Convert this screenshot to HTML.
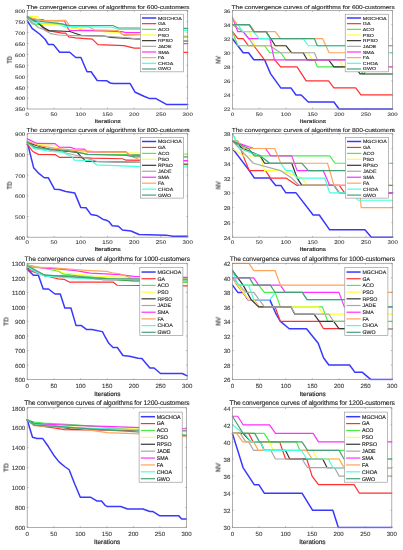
<!DOCTYPE html>
<html><head><meta charset="utf-8"><style>
html,body{margin:0;padding:0;background:#fff;}
svg{display:block;font-family:"Liberation Sans", sans-serif;filter:blur(0.5px);text-rendering:geometricPrecision;}
text{filter:url(#tb);}
</style></head><body>
<svg width="403" height="550" viewBox="0 0 403 550">
<defs><filter id="tb" x="-5%" y="-50%" width="110%" height="200%"><feGaussianBlur stdDeviation="0.3"/></filter></defs>
<rect width="403" height="550" fill="#fff"/>
<text transform="translate(108.10,8.54) scale(1,0.8221)" font-size="6.7" text-anchor="middle" fill="#111" stroke="#111" stroke-width="0.08" textLength="163.2" lengthAdjust="spacing">The convergence curves of algorithms for 600-customers</text>
<clipPath id="c00"><rect x="26.2" y="9.6" width="162.5" height="100.4"/></clipPath>
<g clip-path="url(#c00)" fill="none" stroke-linejoin="round" stroke-linecap="round">
<polyline points="27.40,21.00 32.10,28.30 40.20,34.50 45.30,39.50 48.40,44.60 53.50,44.60 59.60,52.20 69.70,52.20 75.80,57.50 80.90,57.50 87.00,71.70 91.10,71.70 97.20,80.50 106.50,80.70 110.20,83.00 113.30,83.40 130.00,83.40 135.20,92.30 144.50,96.50 149.75,98.60 156.00,98.60 166.40,104.40 187.80,104.40" stroke="#3838ff" stroke-width="1.5"/>
<polyline points="27.40,18.50 38.40,22.50 42.10,25.60 45.90,30.60 50.80,31.20 62.00,33.10 65.70,33.10 68.80,36.80 75.60,37.80 92.30,39.10 97.90,44.70 124.00,45.60 134.20,48.10 150.00,48.20 160.00,52.40 187.80,52.40" stroke="#ff3030" stroke-width="1.2"/>
<polyline points="27.40,17.50 32.20,23.80 38.40,24.40 62.00,24.40 67.00,25.60 77.40,28.00 81.20,29.80 120.20,31.70 124.00,35.40 139.80,35.40 160.00,36.40 187.80,36.40" stroke="#48ee48" stroke-width="1.2"/>
<polyline points="27.90,16.30 31.00,16.30 37.80,16.70 39.60,18.80 42.10,24.40 63.20,25.00 65.70,28.10 76.00,28.10 103.50,31.70 120.20,32.60 124.00,34.50 150.00,36.00 160.00,41.00 187.80,41.00" stroke="#ffff38" stroke-width="1.2"/>
<polyline points="27.40,17.00 38.40,23.20 42.10,26.90 49.00,30.60 70.00,31.50 75.60,33.50 81.20,35.40 103.50,36.00 111.00,37.30 124.00,38.20 139.80,39.10 150.00,40.50 187.80,41.00" stroke="#363636" stroke-width="1.2"/>
<polyline points="27.40,18.00 38.20,27.50 43.40,29.40 50.80,33.70 58.30,35.00 76.00,35.60 103.50,36.20 124.00,37.50 150.00,40.20 187.80,40.60" stroke="#a8a8a8" stroke-width="1.2"/>
<polyline points="27.40,17.20 33.40,19.40 43.40,19.70 44.60,20.70 64.50,20.90 68.20,28.70 69.40,30.40 103.50,30.80 122.10,31.70 125.80,32.60 139.80,32.60 155.00,40.00 160.00,43.70 187.80,43.70" stroke="#ff30ff" stroke-width="1.2"/>
<polyline points="27.40,16.80 42.10,20.70 65.70,20.40 68.80,24.40 70.00,26.10 88.60,26.70 94.20,29.80 118.00,30.50 122.10,34.50 139.80,34.50 160.00,37.20 187.80,37.20" stroke="#ffa45c" stroke-width="1.2"/>
<polyline points="27.40,16.00 33.40,21.90 40.90,23.20 58.30,23.20 63.20,26.30 76.00,26.60 112.00,27.20 118.40,29.30 139.80,29.30 160.00,30.30 187.80,30.30" stroke="#48ffdc" stroke-width="1.2"/>
<polyline points="27.40,16.50 33.40,20.50 62.00,23.80 68.20,25.40 70.00,25.50 112.80,25.50 118.40,28.00 139.80,28.00 187.80,28.40" stroke="#48a078" stroke-width="1.2"/>
</g>
<rect x="27.2" y="10.6" width="160.5" height="98.4" fill="none" stroke="#8c8c8c" stroke-width="0.7"/>
<line x1="27.20" y1="109.0" x2="27.20" y2="107.7" stroke="#8c8c8c" stroke-width="0.6"/>
<line x1="27.20" y1="10.6" x2="27.20" y2="11.9" stroke="#8c8c8c" stroke-width="0.6"/>
<text transform="translate(27.20,115.82) scale(1,0.8221)" font-size="6.1" text-anchor="middle" fill="#383838" stroke="#383838" stroke-width="0.1">0</text>
<line x1="53.95" y1="109.0" x2="53.95" y2="107.7" stroke="#8c8c8c" stroke-width="0.6"/>
<line x1="53.95" y1="10.6" x2="53.95" y2="11.9" stroke="#8c8c8c" stroke-width="0.6"/>
<text transform="translate(53.95,115.82) scale(1,0.8221)" font-size="6.1" text-anchor="middle" fill="#383838" stroke="#383838" stroke-width="0.1">50</text>
<line x1="80.70" y1="109.0" x2="80.70" y2="107.7" stroke="#8c8c8c" stroke-width="0.6"/>
<line x1="80.70" y1="10.6" x2="80.70" y2="11.9" stroke="#8c8c8c" stroke-width="0.6"/>
<text transform="translate(80.70,115.82) scale(1,0.8221)" font-size="6.1" text-anchor="middle" fill="#383838" stroke="#383838" stroke-width="0.1">100</text>
<line x1="107.45" y1="109.0" x2="107.45" y2="107.7" stroke="#8c8c8c" stroke-width="0.6"/>
<line x1="107.45" y1="10.6" x2="107.45" y2="11.9" stroke="#8c8c8c" stroke-width="0.6"/>
<text transform="translate(107.45,115.82) scale(1,0.8221)" font-size="6.1" text-anchor="middle" fill="#383838" stroke="#383838" stroke-width="0.1">150</text>
<line x1="134.20" y1="109.0" x2="134.20" y2="107.7" stroke="#8c8c8c" stroke-width="0.6"/>
<line x1="134.20" y1="10.6" x2="134.20" y2="11.9" stroke="#8c8c8c" stroke-width="0.6"/>
<text transform="translate(134.20,115.82) scale(1,0.8221)" font-size="6.1" text-anchor="middle" fill="#383838" stroke="#383838" stroke-width="0.1">200</text>
<line x1="160.95" y1="109.0" x2="160.95" y2="107.7" stroke="#8c8c8c" stroke-width="0.6"/>
<line x1="160.95" y1="10.6" x2="160.95" y2="11.9" stroke="#8c8c8c" stroke-width="0.6"/>
<text transform="translate(160.95,115.82) scale(1,0.8221)" font-size="6.1" text-anchor="middle" fill="#383838" stroke="#383838" stroke-width="0.1">250</text>
<line x1="187.70" y1="109.0" x2="187.70" y2="107.7" stroke="#8c8c8c" stroke-width="0.6"/>
<line x1="187.70" y1="10.6" x2="187.70" y2="11.9" stroke="#8c8c8c" stroke-width="0.6"/>
<text transform="translate(187.70,115.82) scale(1,0.8221)" font-size="6.1" text-anchor="middle" fill="#383838" stroke="#383838" stroke-width="0.1">300</text>
<line x1="27.2" y1="109.00" x2="28.5" y2="109.00" stroke="#8c8c8c" stroke-width="0.6"/>
<line x1="187.7" y1="109.00" x2="186.39999999999998" y2="109.00" stroke="#8c8c8c" stroke-width="0.6"/>
<text transform="translate(25.20,111.43) scale(1,0.8221)" font-size="6.1" text-anchor="end" fill="#383838" stroke="#383838" stroke-width="0.1">350</text>
<line x1="27.2" y1="98.07" x2="28.5" y2="98.07" stroke="#8c8c8c" stroke-width="0.6"/>
<line x1="187.7" y1="98.07" x2="186.39999999999998" y2="98.07" stroke="#8c8c8c" stroke-width="0.6"/>
<text transform="translate(25.20,100.49) scale(1,0.8221)" font-size="6.1" text-anchor="end" fill="#383838" stroke="#383838" stroke-width="0.1">400</text>
<line x1="27.2" y1="87.13" x2="28.5" y2="87.13" stroke="#8c8c8c" stroke-width="0.6"/>
<line x1="187.7" y1="87.13" x2="186.39999999999998" y2="87.13" stroke="#8c8c8c" stroke-width="0.6"/>
<text transform="translate(25.20,89.56) scale(1,0.8221)" font-size="6.1" text-anchor="end" fill="#383838" stroke="#383838" stroke-width="0.1">450</text>
<line x1="27.2" y1="76.20" x2="28.5" y2="76.20" stroke="#8c8c8c" stroke-width="0.6"/>
<line x1="187.7" y1="76.20" x2="186.39999999999998" y2="76.20" stroke="#8c8c8c" stroke-width="0.6"/>
<text transform="translate(25.20,78.63) scale(1,0.8221)" font-size="6.1" text-anchor="end" fill="#383838" stroke="#383838" stroke-width="0.1">500</text>
<line x1="27.2" y1="65.27" x2="28.5" y2="65.27" stroke="#8c8c8c" stroke-width="0.6"/>
<line x1="187.7" y1="65.27" x2="186.39999999999998" y2="65.27" stroke="#8c8c8c" stroke-width="0.6"/>
<text transform="translate(25.20,67.69) scale(1,0.8221)" font-size="6.1" text-anchor="end" fill="#383838" stroke="#383838" stroke-width="0.1">550</text>
<line x1="27.2" y1="54.33" x2="28.5" y2="54.33" stroke="#8c8c8c" stroke-width="0.6"/>
<line x1="187.7" y1="54.33" x2="186.39999999999998" y2="54.33" stroke="#8c8c8c" stroke-width="0.6"/>
<text transform="translate(25.20,56.76) scale(1,0.8221)" font-size="6.1" text-anchor="end" fill="#383838" stroke="#383838" stroke-width="0.1">600</text>
<line x1="27.2" y1="43.40" x2="28.5" y2="43.40" stroke="#8c8c8c" stroke-width="0.6"/>
<line x1="187.7" y1="43.40" x2="186.39999999999998" y2="43.40" stroke="#8c8c8c" stroke-width="0.6"/>
<text transform="translate(25.20,45.83) scale(1,0.8221)" font-size="6.1" text-anchor="end" fill="#383838" stroke="#383838" stroke-width="0.1">650</text>
<line x1="27.2" y1="32.47" x2="28.5" y2="32.47" stroke="#8c8c8c" stroke-width="0.6"/>
<line x1="187.7" y1="32.47" x2="186.39999999999998" y2="32.47" stroke="#8c8c8c" stroke-width="0.6"/>
<text transform="translate(25.20,34.89) scale(1,0.8221)" font-size="6.1" text-anchor="end" fill="#383838" stroke="#383838" stroke-width="0.1">700</text>
<line x1="27.2" y1="21.53" x2="28.5" y2="21.53" stroke="#8c8c8c" stroke-width="0.6"/>
<line x1="187.7" y1="21.53" x2="186.39999999999998" y2="21.53" stroke="#8c8c8c" stroke-width="0.6"/>
<text transform="translate(25.20,23.96) scale(1,0.8221)" font-size="6.1" text-anchor="end" fill="#383838" stroke="#383838" stroke-width="0.1">750</text>
<line x1="27.2" y1="10.60" x2="28.5" y2="10.60" stroke="#8c8c8c" stroke-width="0.6"/>
<line x1="187.7" y1="10.60" x2="186.39999999999998" y2="10.60" stroke="#8c8c8c" stroke-width="0.6"/>
<text transform="translate(25.20,13.03) scale(1,0.8221)" font-size="6.1" text-anchor="end" fill="#383838" stroke="#383838" stroke-width="0.1">800</text>
<text transform="translate(107.65,122.56) scale(1,0.8221)" font-size="6.4" text-anchor="middle" fill="#262626" stroke="#262626" stroke-width="0.18">Iterations</text>
<text transform="translate(11.83,59.80) scale(1,0.8221) rotate(-90)" font-size="6.4" text-anchor="middle" fill="#262626" stroke="#262626" stroke-width="0.18">TD</text>
<rect x="140.30" y="14.22" width="43.10" height="57.63" fill="#fff" stroke="#8c8c8c" stroke-width="0.6"/>
<line x1="142.00" y1="18.00" x2="156.20" y2="18.00" stroke="#3838ff" stroke-width="1.5"/>
<text transform="translate(157.90,19.52) scale(1,0.8221)" font-size="5.3" text-anchor="start" fill="#262626" stroke="#262626" stroke-width="0.14">MGCHOA</text>
<line x1="142.00" y1="23.66" x2="156.20" y2="23.66" stroke="#ff3030" stroke-width="1.2"/>
<text transform="translate(157.90,25.18) scale(1,0.8221)" font-size="5.3" text-anchor="start" fill="#262626" stroke="#262626" stroke-width="0.14">GA</text>
<line x1="142.00" y1="29.33" x2="156.20" y2="29.33" stroke="#48ee48" stroke-width="1.2"/>
<text transform="translate(157.90,30.85) scale(1,0.8221)" font-size="5.3" text-anchor="start" fill="#262626" stroke="#262626" stroke-width="0.14">ACO</text>
<line x1="142.00" y1="34.99" x2="156.20" y2="34.99" stroke="#ffff38" stroke-width="1.2"/>
<text transform="translate(157.90,36.51) scale(1,0.8221)" font-size="5.3" text-anchor="start" fill="#262626" stroke="#262626" stroke-width="0.14">PSO</text>
<line x1="142.00" y1="40.65" x2="156.20" y2="40.65" stroke="#363636" stroke-width="1.2"/>
<text transform="translate(157.90,42.18) scale(1,0.8221)" font-size="5.3" text-anchor="start" fill="#262626" stroke="#262626" stroke-width="0.14">RPSO</text>
<line x1="142.00" y1="46.32" x2="156.20" y2="46.32" stroke="#a8a8a8" stroke-width="1.2"/>
<text transform="translate(157.90,47.84) scale(1,0.8221)" font-size="5.3" text-anchor="start" fill="#262626" stroke="#262626" stroke-width="0.14">JADE</text>
<line x1="142.00" y1="51.98" x2="156.20" y2="51.98" stroke="#ff30ff" stroke-width="1.2"/>
<text transform="translate(157.90,53.50) scale(1,0.8221)" font-size="5.3" text-anchor="start" fill="#262626" stroke="#262626" stroke-width="0.14">SMA</text>
<line x1="142.00" y1="57.65" x2="156.20" y2="57.65" stroke="#ffa45c" stroke-width="1.2"/>
<text transform="translate(157.90,59.17) scale(1,0.8221)" font-size="5.3" text-anchor="start" fill="#262626" stroke="#262626" stroke-width="0.14">FA</text>
<line x1="142.00" y1="63.31" x2="156.20" y2="63.31" stroke="#48ffdc" stroke-width="1.2"/>
<text transform="translate(157.90,64.83) scale(1,0.8221)" font-size="5.3" text-anchor="start" fill="#262626" stroke="#262626" stroke-width="0.14">CHOA</text>
<line x1="142.00" y1="68.97" x2="156.20" y2="68.97" stroke="#48a078" stroke-width="1.2"/>
<text transform="translate(157.90,70.49) scale(1,0.8221)" font-size="5.3" text-anchor="start" fill="#262626" stroke="#262626" stroke-width="0.14">GWO</text>
<text transform="translate(313.20,8.54) scale(1,0.8221)" font-size="6.7" text-anchor="middle" fill="#111" stroke="#111" stroke-width="0.08" textLength="163.2" lengthAdjust="spacing">The convergence curves of algorithms for 600-customers</text>
<clipPath id="c01"><rect x="231.5" y="9.6" width="162.10000000000002" height="100.4"/></clipPath>
<g clip-path="url(#c01)" fill="none" stroke-linejoin="round" stroke-linecap="round">
<polyline points="232.50,38.71 237.84,45.74 243.17,52.77 248.51,52.77 253.85,59.80 264.52,59.80 270.66,73.86 280.74,87.91 290.94,87.91 296.01,94.94 301.18,94.94 308.28,101.97 333.90,101.97 339.02,109.00 392.60,109.00" stroke="#3838ff" stroke-width="1.5"/>
<polyline points="232.50,31.69 237.84,38.71 243.17,38.71 248.51,45.74 253.85,45.74 264.52,59.80 274.66,59.80 280.74,66.83 297.07,66.83 306.15,80.89 328.56,80.89 333.90,87.91 355.78,87.91 360.90,94.94 392.60,94.94" stroke="#ff3030" stroke-width="1.2"/>
<polyline points="232.50,31.69 237.84,45.74 264.52,45.74 269.86,52.77 280.74,52.77 285.87,59.80 314.42,59.80 317.35,66.83 357.91,66.83 363.25,73.86 392.60,73.86" stroke="#48ee48" stroke-width="1.2"/>
<polyline points="232.50,24.66 243.17,31.69 249.58,31.69 254.91,45.74 285.87,45.74 291.20,52.77 308.28,52.77 312.55,59.80 339.23,59.80 343.50,66.83 392.60,66.83" stroke="#ffff38" stroke-width="1.2"/>
<polyline points="232.50,24.66 249.31,24.66 253.85,31.69 266.12,31.69 270.66,38.71 270.92,38.71 275.19,45.74 285.87,45.74 291.74,52.77 303.16,52.77 307.21,59.80 328.56,59.80 333.90,66.83 355.24,66.83 360.05,73.86 392.60,73.86" stroke="#363636" stroke-width="1.2"/>
<polyline points="232.50,24.66 243.17,31.69 249.04,38.71 253.85,45.74 269.86,45.74 280.53,52.77 310.42,52.77 314.42,52.77 317.35,59.80 349.91,59.80 355.24,66.83 360.58,66.83 365.92,73.86 392.60,73.86" stroke="#a8a8a8" stroke-width="1.2"/>
<polyline points="232.50,17.63 237.84,31.69 243.17,31.69 248.51,38.71 269.86,38.71 274.39,59.80 363.25,59.80 368.59,66.83 392.60,66.83" stroke="#ff30ff" stroke-width="1.2"/>
<polyline points="232.50,17.63 237.30,24.66 249.31,24.66 254.38,31.69 275.19,31.69 280.53,38.71 322.69,38.71 329.09,52.77 392.60,52.77" stroke="#ffa45c" stroke-width="1.2"/>
<polyline points="232.50,24.66 237.84,24.66 242.64,31.69 253.31,31.69 259.18,38.71 303.16,38.71 308.28,45.74 365.92,45.74 371.25,52.77 392.60,52.77" stroke="#48ffdc" stroke-width="1.2"/>
<polyline points="232.50,24.66 249.31,24.66 253.85,31.69 266.12,31.69 270.66,38.71 314.42,38.71 317.35,45.74 392.60,45.74" stroke="#48a078" stroke-width="1.2"/>
</g>
<rect x="232.5" y="10.6" width="160.10000000000002" height="98.4" fill="none" stroke="#8c8c8c" stroke-width="0.7"/>
<line x1="232.50" y1="109.0" x2="232.50" y2="107.7" stroke="#8c8c8c" stroke-width="0.6"/>
<line x1="232.50" y1="10.6" x2="232.50" y2="11.9" stroke="#8c8c8c" stroke-width="0.6"/>
<text transform="translate(232.50,115.82) scale(1,0.8221)" font-size="6.1" text-anchor="middle" fill="#383838" stroke="#383838" stroke-width="0.1">0</text>
<line x1="259.18" y1="109.0" x2="259.18" y2="107.7" stroke="#8c8c8c" stroke-width="0.6"/>
<line x1="259.18" y1="10.6" x2="259.18" y2="11.9" stroke="#8c8c8c" stroke-width="0.6"/>
<text transform="translate(259.18,115.82) scale(1,0.8221)" font-size="6.1" text-anchor="middle" fill="#383838" stroke="#383838" stroke-width="0.1">50</text>
<line x1="285.87" y1="109.0" x2="285.87" y2="107.7" stroke="#8c8c8c" stroke-width="0.6"/>
<line x1="285.87" y1="10.6" x2="285.87" y2="11.9" stroke="#8c8c8c" stroke-width="0.6"/>
<text transform="translate(285.87,115.82) scale(1,0.8221)" font-size="6.1" text-anchor="middle" fill="#383838" stroke="#383838" stroke-width="0.1">100</text>
<line x1="312.55" y1="109.0" x2="312.55" y2="107.7" stroke="#8c8c8c" stroke-width="0.6"/>
<line x1="312.55" y1="10.6" x2="312.55" y2="11.9" stroke="#8c8c8c" stroke-width="0.6"/>
<text transform="translate(312.55,115.82) scale(1,0.8221)" font-size="6.1" text-anchor="middle" fill="#383838" stroke="#383838" stroke-width="0.1">150</text>
<line x1="339.23" y1="109.0" x2="339.23" y2="107.7" stroke="#8c8c8c" stroke-width="0.6"/>
<line x1="339.23" y1="10.6" x2="339.23" y2="11.9" stroke="#8c8c8c" stroke-width="0.6"/>
<text transform="translate(339.23,115.82) scale(1,0.8221)" font-size="6.1" text-anchor="middle" fill="#383838" stroke="#383838" stroke-width="0.1">200</text>
<line x1="365.92" y1="109.0" x2="365.92" y2="107.7" stroke="#8c8c8c" stroke-width="0.6"/>
<line x1="365.92" y1="10.6" x2="365.92" y2="11.9" stroke="#8c8c8c" stroke-width="0.6"/>
<text transform="translate(365.92,115.82) scale(1,0.8221)" font-size="6.1" text-anchor="middle" fill="#383838" stroke="#383838" stroke-width="0.1">250</text>
<line x1="392.60" y1="109.0" x2="392.60" y2="107.7" stroke="#8c8c8c" stroke-width="0.6"/>
<line x1="392.60" y1="10.6" x2="392.60" y2="11.9" stroke="#8c8c8c" stroke-width="0.6"/>
<text transform="translate(392.60,115.82) scale(1,0.8221)" font-size="6.1" text-anchor="middle" fill="#383838" stroke="#383838" stroke-width="0.1">300</text>
<line x1="232.5" y1="109.00" x2="233.8" y2="109.00" stroke="#8c8c8c" stroke-width="0.6"/>
<line x1="392.6" y1="109.00" x2="391.3" y2="109.00" stroke="#8c8c8c" stroke-width="0.6"/>
<text transform="translate(230.50,111.43) scale(1,0.8221)" font-size="6.1" text-anchor="end" fill="#383838" stroke="#383838" stroke-width="0.1">22</text>
<line x1="232.5" y1="94.94" x2="233.8" y2="94.94" stroke="#8c8c8c" stroke-width="0.6"/>
<line x1="392.6" y1="94.94" x2="391.3" y2="94.94" stroke="#8c8c8c" stroke-width="0.6"/>
<text transform="translate(230.50,97.37) scale(1,0.8221)" font-size="6.1" text-anchor="end" fill="#383838" stroke="#383838" stroke-width="0.1">24</text>
<line x1="232.5" y1="80.89" x2="233.8" y2="80.89" stroke="#8c8c8c" stroke-width="0.6"/>
<line x1="392.6" y1="80.89" x2="391.3" y2="80.89" stroke="#8c8c8c" stroke-width="0.6"/>
<text transform="translate(230.50,83.31) scale(1,0.8221)" font-size="6.1" text-anchor="end" fill="#383838" stroke="#383838" stroke-width="0.1">26</text>
<line x1="232.5" y1="66.83" x2="233.8" y2="66.83" stroke="#8c8c8c" stroke-width="0.6"/>
<line x1="392.6" y1="66.83" x2="391.3" y2="66.83" stroke="#8c8c8c" stroke-width="0.6"/>
<text transform="translate(230.50,69.25) scale(1,0.8221)" font-size="6.1" text-anchor="end" fill="#383838" stroke="#383838" stroke-width="0.1">28</text>
<line x1="232.5" y1="52.77" x2="233.8" y2="52.77" stroke="#8c8c8c" stroke-width="0.6"/>
<line x1="392.6" y1="52.77" x2="391.3" y2="52.77" stroke="#8c8c8c" stroke-width="0.6"/>
<text transform="translate(230.50,55.20) scale(1,0.8221)" font-size="6.1" text-anchor="end" fill="#383838" stroke="#383838" stroke-width="0.1">30</text>
<line x1="232.5" y1="38.71" x2="233.8" y2="38.71" stroke="#8c8c8c" stroke-width="0.6"/>
<line x1="392.6" y1="38.71" x2="391.3" y2="38.71" stroke="#8c8c8c" stroke-width="0.6"/>
<text transform="translate(230.50,41.14) scale(1,0.8221)" font-size="6.1" text-anchor="end" fill="#383838" stroke="#383838" stroke-width="0.1">32</text>
<line x1="232.5" y1="24.66" x2="233.8" y2="24.66" stroke="#8c8c8c" stroke-width="0.6"/>
<line x1="392.6" y1="24.66" x2="391.3" y2="24.66" stroke="#8c8c8c" stroke-width="0.6"/>
<text transform="translate(230.50,27.08) scale(1,0.8221)" font-size="6.1" text-anchor="end" fill="#383838" stroke="#383838" stroke-width="0.1">34</text>
<line x1="232.5" y1="10.60" x2="233.8" y2="10.60" stroke="#8c8c8c" stroke-width="0.6"/>
<line x1="392.6" y1="10.60" x2="391.3" y2="10.60" stroke="#8c8c8c" stroke-width="0.6"/>
<text transform="translate(230.50,13.03) scale(1,0.8221)" font-size="6.1" text-anchor="end" fill="#383838" stroke="#383838" stroke-width="0.1">36</text>
<text transform="translate(312.75,122.56) scale(1,0.8221)" font-size="6.4" text-anchor="middle" fill="#262626" stroke="#262626" stroke-width="0.18">Iterations</text>
<text transform="translate(220.52,59.80) scale(1,0.8221) rotate(-90)" font-size="6.4" text-anchor="middle" fill="#262626" stroke="#262626" stroke-width="0.18">NV</text>
<rect x="345.20" y="14.22" width="43.10" height="57.63" fill="#fff" stroke="#8c8c8c" stroke-width="0.6"/>
<line x1="346.90" y1="18.00" x2="361.10" y2="18.00" stroke="#3838ff" stroke-width="1.5"/>
<text transform="translate(362.80,19.52) scale(1,0.8221)" font-size="5.3" text-anchor="start" fill="#262626" stroke="#262626" stroke-width="0.14">MGCHOA</text>
<line x1="346.90" y1="23.66" x2="361.10" y2="23.66" stroke="#ff3030" stroke-width="1.2"/>
<text transform="translate(362.80,25.18) scale(1,0.8221)" font-size="5.3" text-anchor="start" fill="#262626" stroke="#262626" stroke-width="0.14">GA</text>
<line x1="346.90" y1="29.33" x2="361.10" y2="29.33" stroke="#48ee48" stroke-width="1.2"/>
<text transform="translate(362.80,30.85) scale(1,0.8221)" font-size="5.3" text-anchor="start" fill="#262626" stroke="#262626" stroke-width="0.14">ACO</text>
<line x1="346.90" y1="34.99" x2="361.10" y2="34.99" stroke="#ffff38" stroke-width="1.2"/>
<text transform="translate(362.80,36.51) scale(1,0.8221)" font-size="5.3" text-anchor="start" fill="#262626" stroke="#262626" stroke-width="0.14">PSO</text>
<line x1="346.90" y1="40.65" x2="361.10" y2="40.65" stroke="#363636" stroke-width="1.2"/>
<text transform="translate(362.80,42.18) scale(1,0.8221)" font-size="5.3" text-anchor="start" fill="#262626" stroke="#262626" stroke-width="0.14">RPSO</text>
<line x1="346.90" y1="46.32" x2="361.10" y2="46.32" stroke="#a8a8a8" stroke-width="1.2"/>
<text transform="translate(362.80,47.84) scale(1,0.8221)" font-size="5.3" text-anchor="start" fill="#262626" stroke="#262626" stroke-width="0.14">JADE</text>
<line x1="346.90" y1="51.98" x2="361.10" y2="51.98" stroke="#ff30ff" stroke-width="1.2"/>
<text transform="translate(362.80,53.50) scale(1,0.8221)" font-size="5.3" text-anchor="start" fill="#262626" stroke="#262626" stroke-width="0.14">SMA</text>
<line x1="346.90" y1="57.65" x2="361.10" y2="57.65" stroke="#ffa45c" stroke-width="1.2"/>
<text transform="translate(362.80,59.17) scale(1,0.8221)" font-size="5.3" text-anchor="start" fill="#262626" stroke="#262626" stroke-width="0.14">FA</text>
<line x1="346.90" y1="63.31" x2="361.10" y2="63.31" stroke="#48ffdc" stroke-width="1.2"/>
<text transform="translate(362.80,64.83) scale(1,0.8221)" font-size="5.3" text-anchor="start" fill="#262626" stroke="#262626" stroke-width="0.14">CHOA</text>
<line x1="346.90" y1="68.97" x2="361.10" y2="68.97" stroke="#48a078" stroke-width="1.2"/>
<text transform="translate(362.80,70.49) scale(1,0.8221)" font-size="5.3" text-anchor="start" fill="#262626" stroke="#262626" stroke-width="0.14">GWO</text>
<text transform="translate(108.10,131.54) scale(1,0.8647)" font-size="6.7" text-anchor="middle" fill="#111" stroke="#111" stroke-width="0.08" textLength="163.2" lengthAdjust="spacing">The convergence curves of algorithms for 800-customers</text>
<clipPath id="c10"><rect x="26.2" y="132.7" width="162.5" height="105.5"/></clipPath>
<g clip-path="url(#c10)" fill="none" stroke-linejoin="round" stroke-linecap="round">
<polyline points="27.20,144.46 28.27,146.12 33.62,167.65 38.22,172.82 44.32,177.79 48.39,177.79 54.48,189.18 59.30,189.59 65.72,191.45 74.81,193.11 80.70,207.39 86.05,207.81 90.86,214.43 96.75,215.46 103.17,219.40 105.84,220.02 109.06,221.67 112.27,225.81 118.42,226.23 122.43,229.95 130.99,230.99 139.01,234.51 166.30,235.13 172.72,236.16 187.70,236.16" stroke="#3838ff" stroke-width="1.5"/>
<polyline points="27.20,144.05 32.82,151.50 38.44,154.40 55.02,154.61 59.30,157.30 75.89,157.30 91.40,158.13 122.43,158.75 126.17,160.20 187.70,160.61" stroke="#ff3030" stroke-width="1.2"/>
<polyline points="27.20,142.60 33.41,147.78 50.74,149.64 75.89,151.92 87.66,154.40 126.17,154.61 140.09,154.61 187.70,153.78" stroke="#48ee48" stroke-width="1.2"/>
<polyline points="27.20,141.98 37.20,144.67 54.48,145.29 59.30,149.02 75.89,150.67 80.70,151.92 126.17,152.74 187.70,153.78" stroke="#ffff38" stroke-width="1.2"/>
<polyline points="27.20,142.39 37.20,145.71 50.74,149.64 73.75,151.92 76.95,152.33 86.05,161.44 140.09,162.27 187.70,164.54" stroke="#363636" stroke-width="1.2"/>
<polyline points="27.20,143.01 37.20,148.40 59.30,151.29 80.70,156.47 96.75,161.44 187.70,163.71" stroke="#a8a8a8" stroke-width="1.2"/>
<polyline points="27.20,138.88 37.20,143.43 55.02,143.64 59.30,147.15 70.53,147.36 75.35,149.02 84.44,149.22 87.66,151.92 126.17,151.92 129.38,155.44 140.09,155.44 150.25,160.61 187.70,160.61" stroke="#ff30ff" stroke-width="1.2"/>
<polyline points="27.20,140.94 37.90,145.29 55.55,148.40 75.89,150.47 99.96,151.92 126.17,152.33 134.20,157.50 150.25,163.71 187.70,163.71" stroke="#ffa45c" stroke-width="1.2"/>
<polyline points="27.20,141.57 33.41,148.40 50.74,151.50 61.97,152.12 71.87,156.47 74.28,160.20 91.40,160.61 96.75,164.96 140.09,166.61 187.70,166.82" stroke="#48ffdc" stroke-width="1.2"/>
<polyline points="27.20,141.98 35.23,147.15 50.74,149.22 75.89,151.92 87.66,154.40 126.17,155.44 134.20,156.88 187.70,156.88" stroke="#48a078" stroke-width="1.2"/>
</g>
<rect x="27.2" y="133.7" width="160.5" height="103.5" fill="none" stroke="#8c8c8c" stroke-width="0.7"/>
<line x1="27.20" y1="237.2" x2="27.20" y2="235.89999999999998" stroke="#8c8c8c" stroke-width="0.6"/>
<line x1="27.20" y1="133.7" x2="27.20" y2="135.0" stroke="#8c8c8c" stroke-width="0.6"/>
<text transform="translate(27.20,244.38) scale(1,0.8647)" font-size="6.1" text-anchor="middle" fill="#383838" stroke="#383838" stroke-width="0.1">0</text>
<line x1="53.95" y1="237.2" x2="53.95" y2="235.89999999999998" stroke="#8c8c8c" stroke-width="0.6"/>
<line x1="53.95" y1="133.7" x2="53.95" y2="135.0" stroke="#8c8c8c" stroke-width="0.6"/>
<text transform="translate(53.95,244.38) scale(1,0.8647)" font-size="6.1" text-anchor="middle" fill="#383838" stroke="#383838" stroke-width="0.1">50</text>
<line x1="80.70" y1="237.2" x2="80.70" y2="235.89999999999998" stroke="#8c8c8c" stroke-width="0.6"/>
<line x1="80.70" y1="133.7" x2="80.70" y2="135.0" stroke="#8c8c8c" stroke-width="0.6"/>
<text transform="translate(80.70,244.38) scale(1,0.8647)" font-size="6.1" text-anchor="middle" fill="#383838" stroke="#383838" stroke-width="0.1">100</text>
<line x1="107.45" y1="237.2" x2="107.45" y2="235.89999999999998" stroke="#8c8c8c" stroke-width="0.6"/>
<line x1="107.45" y1="133.7" x2="107.45" y2="135.0" stroke="#8c8c8c" stroke-width="0.6"/>
<text transform="translate(107.45,244.38) scale(1,0.8647)" font-size="6.1" text-anchor="middle" fill="#383838" stroke="#383838" stroke-width="0.1">150</text>
<line x1="134.20" y1="237.2" x2="134.20" y2="235.89999999999998" stroke="#8c8c8c" stroke-width="0.6"/>
<line x1="134.20" y1="133.7" x2="134.20" y2="135.0" stroke="#8c8c8c" stroke-width="0.6"/>
<text transform="translate(134.20,244.38) scale(1,0.8647)" font-size="6.1" text-anchor="middle" fill="#383838" stroke="#383838" stroke-width="0.1">200</text>
<line x1="160.95" y1="237.2" x2="160.95" y2="235.89999999999998" stroke="#8c8c8c" stroke-width="0.6"/>
<line x1="160.95" y1="133.7" x2="160.95" y2="135.0" stroke="#8c8c8c" stroke-width="0.6"/>
<text transform="translate(160.95,244.38) scale(1,0.8647)" font-size="6.1" text-anchor="middle" fill="#383838" stroke="#383838" stroke-width="0.1">250</text>
<line x1="187.70" y1="237.2" x2="187.70" y2="235.89999999999998" stroke="#8c8c8c" stroke-width="0.6"/>
<line x1="187.70" y1="133.7" x2="187.70" y2="135.0" stroke="#8c8c8c" stroke-width="0.6"/>
<text transform="translate(187.70,244.38) scale(1,0.8647)" font-size="6.1" text-anchor="middle" fill="#383838" stroke="#383838" stroke-width="0.1">300</text>
<line x1="27.2" y1="237.20" x2="28.5" y2="237.20" stroke="#8c8c8c" stroke-width="0.6"/>
<line x1="187.7" y1="237.20" x2="186.39999999999998" y2="237.20" stroke="#8c8c8c" stroke-width="0.6"/>
<text transform="translate(25.20,239.72) scale(1,0.8647)" font-size="6.1" text-anchor="end" fill="#383838" stroke="#383838" stroke-width="0.1">400</text>
<line x1="27.2" y1="216.50" x2="28.5" y2="216.50" stroke="#8c8c8c" stroke-width="0.6"/>
<line x1="187.7" y1="216.50" x2="186.39999999999998" y2="216.50" stroke="#8c8c8c" stroke-width="0.6"/>
<text transform="translate(25.20,219.02) scale(1,0.8647)" font-size="6.1" text-anchor="end" fill="#383838" stroke="#383838" stroke-width="0.1">500</text>
<line x1="27.2" y1="195.80" x2="28.5" y2="195.80" stroke="#8c8c8c" stroke-width="0.6"/>
<line x1="187.7" y1="195.80" x2="186.39999999999998" y2="195.80" stroke="#8c8c8c" stroke-width="0.6"/>
<text transform="translate(25.20,198.32) scale(1,0.8647)" font-size="6.1" text-anchor="end" fill="#383838" stroke="#383838" stroke-width="0.1">600</text>
<line x1="27.2" y1="175.10" x2="28.5" y2="175.10" stroke="#8c8c8c" stroke-width="0.6"/>
<line x1="187.7" y1="175.10" x2="186.39999999999998" y2="175.10" stroke="#8c8c8c" stroke-width="0.6"/>
<text transform="translate(25.20,177.62) scale(1,0.8647)" font-size="6.1" text-anchor="end" fill="#383838" stroke="#383838" stroke-width="0.1">700</text>
<line x1="27.2" y1="154.40" x2="28.5" y2="154.40" stroke="#8c8c8c" stroke-width="0.6"/>
<line x1="187.7" y1="154.40" x2="186.39999999999998" y2="154.40" stroke="#8c8c8c" stroke-width="0.6"/>
<text transform="translate(25.20,156.92) scale(1,0.8647)" font-size="6.1" text-anchor="end" fill="#383838" stroke="#383838" stroke-width="0.1">800</text>
<line x1="27.2" y1="133.70" x2="28.5" y2="133.70" stroke="#8c8c8c" stroke-width="0.6"/>
<line x1="187.7" y1="133.70" x2="186.39999999999998" y2="133.70" stroke="#8c8c8c" stroke-width="0.6"/>
<text transform="translate(25.20,136.22) scale(1,0.8647)" font-size="6.1" text-anchor="end" fill="#383838" stroke="#383838" stroke-width="0.1">900</text>
<text transform="translate(107.65,251.47) scale(1,0.8647)" font-size="6.4" text-anchor="middle" fill="#262626" stroke="#262626" stroke-width="0.18">Iterations</text>
<text transform="translate(11.83,185.45) scale(1,0.8647) rotate(-90)" font-size="6.4" text-anchor="middle" fill="#262626" stroke="#262626" stroke-width="0.18">TD</text>
<rect x="140.30" y="137.50" width="43.10" height="60.61" fill="#fff" stroke="#8c8c8c" stroke-width="0.6"/>
<line x1="142.00" y1="141.48" x2="156.20" y2="141.48" stroke="#3838ff" stroke-width="1.5"/>
<text transform="translate(157.90,143.08) scale(1,0.8647)" font-size="5.3" text-anchor="start" fill="#262626" stroke="#262626" stroke-width="0.14">MGCHOA</text>
<line x1="142.00" y1="147.44" x2="156.20" y2="147.44" stroke="#ff3030" stroke-width="1.2"/>
<text transform="translate(157.90,149.04) scale(1,0.8647)" font-size="5.3" text-anchor="start" fill="#262626" stroke="#262626" stroke-width="0.14">GA</text>
<line x1="142.00" y1="153.40" x2="156.20" y2="153.40" stroke="#48ee48" stroke-width="1.2"/>
<text transform="translate(157.90,155.00) scale(1,0.8647)" font-size="5.3" text-anchor="start" fill="#262626" stroke="#262626" stroke-width="0.14">ACO</text>
<line x1="142.00" y1="159.35" x2="156.20" y2="159.35" stroke="#ffff38" stroke-width="1.2"/>
<text transform="translate(157.90,160.95) scale(1,0.8647)" font-size="5.3" text-anchor="start" fill="#262626" stroke="#262626" stroke-width="0.14">PSO</text>
<line x1="142.00" y1="165.31" x2="156.20" y2="165.31" stroke="#363636" stroke-width="1.2"/>
<text transform="translate(157.90,166.91) scale(1,0.8647)" font-size="5.3" text-anchor="start" fill="#262626" stroke="#262626" stroke-width="0.14">RPSO</text>
<line x1="142.00" y1="171.27" x2="156.20" y2="171.27" stroke="#a8a8a8" stroke-width="1.2"/>
<text transform="translate(157.90,172.87) scale(1,0.8647)" font-size="5.3" text-anchor="start" fill="#262626" stroke="#262626" stroke-width="0.14">JADE</text>
<line x1="142.00" y1="177.23" x2="156.20" y2="177.23" stroke="#ff30ff" stroke-width="1.2"/>
<text transform="translate(157.90,178.83) scale(1,0.8647)" font-size="5.3" text-anchor="start" fill="#262626" stroke="#262626" stroke-width="0.14">SMA</text>
<line x1="142.00" y1="183.18" x2="156.20" y2="183.18" stroke="#ffa45c" stroke-width="1.2"/>
<text transform="translate(157.90,184.78) scale(1,0.8647)" font-size="5.3" text-anchor="start" fill="#262626" stroke="#262626" stroke-width="0.14">FA</text>
<line x1="142.00" y1="189.14" x2="156.20" y2="189.14" stroke="#48ffdc" stroke-width="1.2"/>
<text transform="translate(157.90,190.74) scale(1,0.8647)" font-size="5.3" text-anchor="start" fill="#262626" stroke="#262626" stroke-width="0.14">CHOA</text>
<line x1="142.00" y1="195.10" x2="156.20" y2="195.10" stroke="#48a078" stroke-width="1.2"/>
<text transform="translate(157.90,196.70) scale(1,0.8647)" font-size="5.3" text-anchor="start" fill="#262626" stroke="#262626" stroke-width="0.14">GWO</text>
<text transform="translate(313.25,131.54) scale(1,0.8647)" font-size="6.7" text-anchor="middle" fill="#111" stroke="#111" stroke-width="0.08" textLength="163.2" lengthAdjust="spacing">The convergence curves of algorithms for 800-customers</text>
<clipPath id="c11"><rect x="231.5" y="132.7" width="162.2" height="105.5"/></clipPath>
<g clip-path="url(#c11)" fill="none" stroke-linejoin="round" stroke-linecap="round">
<polyline points="232.50,148.49 249.32,170.66 254.39,178.06 269.67,178.06 275.75,185.45 280.83,185.45 285.90,192.84 296.05,192.84 313.13,215.02 319.27,215.02 329.69,229.81 364.93,229.81 371.34,237.20 392.70,237.20" stroke="#3838ff" stroke-width="1.5"/>
<polyline points="232.50,141.09 237.84,141.09 243.18,155.88 249.32,170.66 265.61,170.66 270.41,178.06 285.90,178.06 297.11,185.45 339.30,185.45 344.64,192.84 392.70,192.84" stroke="#ff3030" stroke-width="1.2"/>
<polyline points="232.50,133.70 239.98,148.49 259.20,155.88 329.69,155.88 335.03,163.27 392.70,163.27" stroke="#48ee48" stroke-width="1.2"/>
<polyline points="232.50,148.49 243.18,155.88 260.27,155.88 264.54,170.66 280.83,170.66 301.92,178.06 307.26,185.45 392.70,185.45" stroke="#ffff38" stroke-width="1.2"/>
<polyline points="232.50,141.09 243.18,148.49 260.27,155.88 264.54,163.27 291.77,163.27 297.11,178.06 301.92,185.45 333.96,185.45 339.30,192.84 392.70,192.84" stroke="#363636" stroke-width="1.2"/>
<polyline points="232.50,141.09 253.33,163.27 280.56,170.66 291.77,178.06 299.25,185.45 333.96,185.45 339.30,192.84 392.70,192.84" stroke="#a8a8a8" stroke-width="1.2"/>
<polyline points="232.50,141.09 253.86,148.49 265.61,148.49 270.68,155.88 291.77,155.88 297.11,170.66 323.28,170.66 329.69,185.45 349.98,185.45 355.32,192.84 392.70,192.84" stroke="#ff30ff" stroke-width="1.2"/>
<polyline points="232.50,141.09 236.77,141.09 244.25,148.49 274.69,148.49 280.83,163.27 327.55,163.27 333.96,185.45 359.06,185.45 361.19,207.63 392.70,207.63" stroke="#ffa45c" stroke-width="1.2"/>
<polyline points="232.50,133.70 239.98,148.49 260.27,155.88 269.67,163.27 280.83,163.27 285.90,170.66 291.77,170.66 297.11,178.06 324.62,178.06 329.69,192.84 352.65,192.84 357.99,200.24 392.70,200.24" stroke="#48ffdc" stroke-width="1.2"/>
<polyline points="232.50,141.09 248.52,148.49 254.39,155.88 260.27,155.88 269.88,163.27 301.92,163.27 308.33,170.66 366.00,170.66 371.34,185.45 392.70,185.45" stroke="#48a078" stroke-width="1.2"/>
</g>
<rect x="232.5" y="133.7" width="160.2" height="103.5" fill="none" stroke="#8c8c8c" stroke-width="0.7"/>
<line x1="232.50" y1="237.2" x2="232.50" y2="235.89999999999998" stroke="#8c8c8c" stroke-width="0.6"/>
<line x1="232.50" y1="133.7" x2="232.50" y2="135.0" stroke="#8c8c8c" stroke-width="0.6"/>
<text transform="translate(232.50,244.38) scale(1,0.8647)" font-size="6.1" text-anchor="middle" fill="#383838" stroke="#383838" stroke-width="0.1">0</text>
<line x1="259.20" y1="237.2" x2="259.20" y2="235.89999999999998" stroke="#8c8c8c" stroke-width="0.6"/>
<line x1="259.20" y1="133.7" x2="259.20" y2="135.0" stroke="#8c8c8c" stroke-width="0.6"/>
<text transform="translate(259.20,244.38) scale(1,0.8647)" font-size="6.1" text-anchor="middle" fill="#383838" stroke="#383838" stroke-width="0.1">50</text>
<line x1="285.90" y1="237.2" x2="285.90" y2="235.89999999999998" stroke="#8c8c8c" stroke-width="0.6"/>
<line x1="285.90" y1="133.7" x2="285.90" y2="135.0" stroke="#8c8c8c" stroke-width="0.6"/>
<text transform="translate(285.90,244.38) scale(1,0.8647)" font-size="6.1" text-anchor="middle" fill="#383838" stroke="#383838" stroke-width="0.1">100</text>
<line x1="312.60" y1="237.2" x2="312.60" y2="235.89999999999998" stroke="#8c8c8c" stroke-width="0.6"/>
<line x1="312.60" y1="133.7" x2="312.60" y2="135.0" stroke="#8c8c8c" stroke-width="0.6"/>
<text transform="translate(312.60,244.38) scale(1,0.8647)" font-size="6.1" text-anchor="middle" fill="#383838" stroke="#383838" stroke-width="0.1">150</text>
<line x1="339.30" y1="237.2" x2="339.30" y2="235.89999999999998" stroke="#8c8c8c" stroke-width="0.6"/>
<line x1="339.30" y1="133.7" x2="339.30" y2="135.0" stroke="#8c8c8c" stroke-width="0.6"/>
<text transform="translate(339.30,244.38) scale(1,0.8647)" font-size="6.1" text-anchor="middle" fill="#383838" stroke="#383838" stroke-width="0.1">200</text>
<line x1="366.00" y1="237.2" x2="366.00" y2="235.89999999999998" stroke="#8c8c8c" stroke-width="0.6"/>
<line x1="366.00" y1="133.7" x2="366.00" y2="135.0" stroke="#8c8c8c" stroke-width="0.6"/>
<text transform="translate(366.00,244.38) scale(1,0.8647)" font-size="6.1" text-anchor="middle" fill="#383838" stroke="#383838" stroke-width="0.1">250</text>
<line x1="392.70" y1="237.2" x2="392.70" y2="235.89999999999998" stroke="#8c8c8c" stroke-width="0.6"/>
<line x1="392.70" y1="133.7" x2="392.70" y2="135.0" stroke="#8c8c8c" stroke-width="0.6"/>
<text transform="translate(392.70,244.38) scale(1,0.8647)" font-size="6.1" text-anchor="middle" fill="#383838" stroke="#383838" stroke-width="0.1">300</text>
<line x1="232.5" y1="237.20" x2="233.8" y2="237.20" stroke="#8c8c8c" stroke-width="0.6"/>
<line x1="392.7" y1="237.20" x2="391.4" y2="237.20" stroke="#8c8c8c" stroke-width="0.6"/>
<text transform="translate(230.50,239.72) scale(1,0.8647)" font-size="6.1" text-anchor="end" fill="#383838" stroke="#383838" stroke-width="0.1">24</text>
<line x1="232.5" y1="222.41" x2="233.8" y2="222.41" stroke="#8c8c8c" stroke-width="0.6"/>
<line x1="392.7" y1="222.41" x2="391.4" y2="222.41" stroke="#8c8c8c" stroke-width="0.6"/>
<text transform="translate(230.50,224.93) scale(1,0.8647)" font-size="6.1" text-anchor="end" fill="#383838" stroke="#383838" stroke-width="0.1">26</text>
<line x1="232.5" y1="207.63" x2="233.8" y2="207.63" stroke="#8c8c8c" stroke-width="0.6"/>
<line x1="392.7" y1="207.63" x2="391.4" y2="207.63" stroke="#8c8c8c" stroke-width="0.6"/>
<text transform="translate(230.50,210.14) scale(1,0.8647)" font-size="6.1" text-anchor="end" fill="#383838" stroke="#383838" stroke-width="0.1">28</text>
<line x1="232.5" y1="192.84" x2="233.8" y2="192.84" stroke="#8c8c8c" stroke-width="0.6"/>
<line x1="392.7" y1="192.84" x2="391.4" y2="192.84" stroke="#8c8c8c" stroke-width="0.6"/>
<text transform="translate(230.50,195.36) scale(1,0.8647)" font-size="6.1" text-anchor="end" fill="#383838" stroke="#383838" stroke-width="0.1">30</text>
<line x1="232.5" y1="178.06" x2="233.8" y2="178.06" stroke="#8c8c8c" stroke-width="0.6"/>
<line x1="392.7" y1="178.06" x2="391.4" y2="178.06" stroke="#8c8c8c" stroke-width="0.6"/>
<text transform="translate(230.50,180.57) scale(1,0.8647)" font-size="6.1" text-anchor="end" fill="#383838" stroke="#383838" stroke-width="0.1">32</text>
<line x1="232.5" y1="163.27" x2="233.8" y2="163.27" stroke="#8c8c8c" stroke-width="0.6"/>
<line x1="392.7" y1="163.27" x2="391.4" y2="163.27" stroke="#8c8c8c" stroke-width="0.6"/>
<text transform="translate(230.50,165.79) scale(1,0.8647)" font-size="6.1" text-anchor="end" fill="#383838" stroke="#383838" stroke-width="0.1">34</text>
<line x1="232.5" y1="148.49" x2="233.8" y2="148.49" stroke="#8c8c8c" stroke-width="0.6"/>
<line x1="392.7" y1="148.49" x2="391.4" y2="148.49" stroke="#8c8c8c" stroke-width="0.6"/>
<text transform="translate(230.50,151.00) scale(1,0.8647)" font-size="6.1" text-anchor="end" fill="#383838" stroke="#383838" stroke-width="0.1">36</text>
<line x1="232.5" y1="133.70" x2="233.8" y2="133.70" stroke="#8c8c8c" stroke-width="0.6"/>
<line x1="392.7" y1="133.70" x2="391.4" y2="133.70" stroke="#8c8c8c" stroke-width="0.6"/>
<text transform="translate(230.50,136.22) scale(1,0.8647)" font-size="6.1" text-anchor="end" fill="#383838" stroke="#383838" stroke-width="0.1">38</text>
<text transform="translate(312.80,251.47) scale(1,0.8647)" font-size="6.4" text-anchor="middle" fill="#262626" stroke="#262626" stroke-width="0.18">Iterations</text>
<text transform="translate(220.52,185.45) scale(1,0.8647) rotate(-90)" font-size="6.4" text-anchor="middle" fill="#262626" stroke="#262626" stroke-width="0.18">NV</text>
<rect x="345.30" y="137.50" width="43.10" height="60.61" fill="#fff" stroke="#8c8c8c" stroke-width="0.6"/>
<line x1="347.00" y1="141.48" x2="361.20" y2="141.48" stroke="#3838ff" stroke-width="1.5"/>
<text transform="translate(362.90,143.08) scale(1,0.8647)" font-size="5.3" text-anchor="start" fill="#262626" stroke="#262626" stroke-width="0.14">MGCHOA</text>
<line x1="347.00" y1="147.44" x2="361.20" y2="147.44" stroke="#ff3030" stroke-width="1.2"/>
<text transform="translate(362.90,149.04) scale(1,0.8647)" font-size="5.3" text-anchor="start" fill="#262626" stroke="#262626" stroke-width="0.14">GA</text>
<line x1="347.00" y1="153.40" x2="361.20" y2="153.40" stroke="#48ee48" stroke-width="1.2"/>
<text transform="translate(362.90,155.00) scale(1,0.8647)" font-size="5.3" text-anchor="start" fill="#262626" stroke="#262626" stroke-width="0.14">ACO</text>
<line x1="347.00" y1="159.35" x2="361.20" y2="159.35" stroke="#ffff38" stroke-width="1.2"/>
<text transform="translate(362.90,160.95) scale(1,0.8647)" font-size="5.3" text-anchor="start" fill="#262626" stroke="#262626" stroke-width="0.14">PSO</text>
<line x1="347.00" y1="165.31" x2="361.20" y2="165.31" stroke="#363636" stroke-width="1.2"/>
<text transform="translate(362.90,166.91) scale(1,0.8647)" font-size="5.3" text-anchor="start" fill="#262626" stroke="#262626" stroke-width="0.14">RPSO</text>
<line x1="347.00" y1="171.27" x2="361.20" y2="171.27" stroke="#a8a8a8" stroke-width="1.2"/>
<text transform="translate(362.90,172.87) scale(1,0.8647)" font-size="5.3" text-anchor="start" fill="#262626" stroke="#262626" stroke-width="0.14">JADE</text>
<line x1="347.00" y1="177.23" x2="361.20" y2="177.23" stroke="#ff30ff" stroke-width="1.2"/>
<text transform="translate(362.90,178.83) scale(1,0.8647)" font-size="5.3" text-anchor="start" fill="#262626" stroke="#262626" stroke-width="0.14">SMA</text>
<line x1="347.00" y1="183.18" x2="361.20" y2="183.18" stroke="#ffa45c" stroke-width="1.2"/>
<text transform="translate(362.90,184.78) scale(1,0.8647)" font-size="5.3" text-anchor="start" fill="#262626" stroke="#262626" stroke-width="0.14">FA</text>
<line x1="347.00" y1="189.14" x2="361.20" y2="189.14" stroke="#48ffdc" stroke-width="1.2"/>
<text transform="translate(362.90,190.74) scale(1,0.8647)" font-size="5.3" text-anchor="start" fill="#262626" stroke="#262626" stroke-width="0.14">CHOA</text>
<line x1="347.00" y1="195.10" x2="361.20" y2="195.10" stroke="#48a078" stroke-width="1.2"/>
<text transform="translate(362.90,196.70) scale(1,0.8647)" font-size="5.3" text-anchor="start" fill="#262626" stroke="#262626" stroke-width="0.14">GWO</text>
<text transform="translate(107.30,260.87) scale(1,0.9716)" font-size="6.7" text-anchor="middle" fill="#111" stroke="#111" stroke-width="0.08" textLength="165.4" lengthAdjust="spacing">The convergence curves of algorithms for 1000-customers</text>
<clipPath id="c20"><rect x="26.2" y="262.3" width="162.0" height="118.30000000000001"/></clipPath>
<g clip-path="url(#c20)" fill="none" stroke-linejoin="round" stroke-linecap="round">
<polyline points="27.20,269.12 33.39,275.22 38.40,275.22 43.20,289.03 48.53,289.03 54.93,293.97 60.27,293.97 64.80,307.93 70.93,307.93 76.00,325.38 81.07,325.38 86.40,329.45 91.73,329.45 102.40,331.63 105.60,337.73 108.80,343.26 113.07,347.47 117.33,347.47 122.93,355.47 129.44,356.19 138.13,358.23 141.87,358.52 149.87,367.97 154.13,367.97 160.53,373.49 182.24,373.49 186.67,375.67 187.20,375.67" stroke="#3838ff" stroke-width="1.5"/>
<polyline points="27.20,268.97 32.00,271.44 38.40,273.33 50.67,276.97 58.13,278.86 64.53,279.44 69.33,282.05 113.07,282.05 117.07,285.25 187.20,285.83" stroke="#ff3030" stroke-width="1.2"/>
<polyline points="27.20,264.75 59.20,271.44 62.93,273.91 75.73,275.51 101.87,277.84 133.87,281.47 187.20,282.34" stroke="#48ee48" stroke-width="1.2"/>
<polyline points="27.20,266.21 53.87,269.12 59.20,270.57 62.93,272.75 75.73,274.20 98.13,276.24 119.47,277.11 187.20,278.56" stroke="#ffff38" stroke-width="1.2"/>
<polyline points="27.20,267.66 44.53,275.80 75.73,276.38 103.20,279.58 133.87,280.02 187.20,280.75" stroke="#363636" stroke-width="1.2"/>
<polyline points="27.20,266.93 44.53,275.66 75.73,276.67 107.20,279.00 187.20,280.02" stroke="#a8a8a8" stroke-width="1.2"/>
<polyline points="27.20,266.93 57.07,268.97 75.73,270.57 90.13,273.04 119.47,274.64 133.87,276.38 187.20,277.40" stroke="#ff30ff" stroke-width="1.2"/>
<polyline points="27.20,267.08 50.67,267.66 75.73,269.55 90.13,270.57 106.67,271.44 112.00,272.75 119.47,273.77 122.93,274.93 133.87,279.29 187.20,280.75" stroke="#ffa45c" stroke-width="1.2"/>
<polyline points="27.20,266.21 32.53,270.57 44.53,276.09 59.20,277.11 75.73,278.27 107.20,279.29 187.20,280.02" stroke="#48ffdc" stroke-width="1.2"/>
<polyline points="27.20,265.48 44.53,274.93 75.73,277.11 107.20,278.56 187.20,279.15" stroke="#48a078" stroke-width="1.2"/>
</g>
<rect x="27.2" y="263.3" width="160.0" height="116.30000000000001" fill="none" stroke="#8c8c8c" stroke-width="0.7"/>
<line x1="27.20" y1="379.6" x2="27.20" y2="378.3" stroke="#8c8c8c" stroke-width="0.6"/>
<line x1="27.20" y1="263.3" x2="27.20" y2="264.6" stroke="#8c8c8c" stroke-width="0.6"/>
<text transform="translate(27.20,387.66) scale(1,0.9716)" font-size="6.1" text-anchor="middle" fill="#383838" stroke="#383838" stroke-width="0.1">0</text>
<line x1="53.87" y1="379.6" x2="53.87" y2="378.3" stroke="#8c8c8c" stroke-width="0.6"/>
<line x1="53.87" y1="263.3" x2="53.87" y2="264.6" stroke="#8c8c8c" stroke-width="0.6"/>
<text transform="translate(53.87,387.66) scale(1,0.9716)" font-size="6.1" text-anchor="middle" fill="#383838" stroke="#383838" stroke-width="0.1">50</text>
<line x1="80.53" y1="379.6" x2="80.53" y2="378.3" stroke="#8c8c8c" stroke-width="0.6"/>
<line x1="80.53" y1="263.3" x2="80.53" y2="264.6" stroke="#8c8c8c" stroke-width="0.6"/>
<text transform="translate(80.53,387.66) scale(1,0.9716)" font-size="6.1" text-anchor="middle" fill="#383838" stroke="#383838" stroke-width="0.1">100</text>
<line x1="107.20" y1="379.6" x2="107.20" y2="378.3" stroke="#8c8c8c" stroke-width="0.6"/>
<line x1="107.20" y1="263.3" x2="107.20" y2="264.6" stroke="#8c8c8c" stroke-width="0.6"/>
<text transform="translate(107.20,387.66) scale(1,0.9716)" font-size="6.1" text-anchor="middle" fill="#383838" stroke="#383838" stroke-width="0.1">150</text>
<line x1="133.87" y1="379.6" x2="133.87" y2="378.3" stroke="#8c8c8c" stroke-width="0.6"/>
<line x1="133.87" y1="263.3" x2="133.87" y2="264.6" stroke="#8c8c8c" stroke-width="0.6"/>
<text transform="translate(133.87,387.66) scale(1,0.9716)" font-size="6.1" text-anchor="middle" fill="#383838" stroke="#383838" stroke-width="0.1">200</text>
<line x1="160.53" y1="379.6" x2="160.53" y2="378.3" stroke="#8c8c8c" stroke-width="0.6"/>
<line x1="160.53" y1="263.3" x2="160.53" y2="264.6" stroke="#8c8c8c" stroke-width="0.6"/>
<text transform="translate(160.53,387.66) scale(1,0.9716)" font-size="6.1" text-anchor="middle" fill="#383838" stroke="#383838" stroke-width="0.1">250</text>
<line x1="187.20" y1="379.6" x2="187.20" y2="378.3" stroke="#8c8c8c" stroke-width="0.6"/>
<line x1="187.20" y1="263.3" x2="187.20" y2="264.6" stroke="#8c8c8c" stroke-width="0.6"/>
<text transform="translate(187.20,387.66) scale(1,0.9716)" font-size="6.1" text-anchor="middle" fill="#383838" stroke="#383838" stroke-width="0.1">300</text>
<line x1="27.2" y1="379.60" x2="28.5" y2="379.60" stroke="#8c8c8c" stroke-width="0.6"/>
<line x1="187.2" y1="379.60" x2="185.89999999999998" y2="379.60" stroke="#8c8c8c" stroke-width="0.6"/>
<text transform="translate(25.20,382.34) scale(1,0.9716)" font-size="6.1" text-anchor="end" fill="#383838" stroke="#383838" stroke-width="0.1">500</text>
<line x1="27.2" y1="365.06" x2="28.5" y2="365.06" stroke="#8c8c8c" stroke-width="0.6"/>
<line x1="187.2" y1="365.06" x2="185.89999999999998" y2="365.06" stroke="#8c8c8c" stroke-width="0.6"/>
<text transform="translate(25.20,367.80) scale(1,0.9716)" font-size="6.1" text-anchor="end" fill="#383838" stroke="#383838" stroke-width="0.1">600</text>
<line x1="27.2" y1="350.53" x2="28.5" y2="350.53" stroke="#8c8c8c" stroke-width="0.6"/>
<line x1="187.2" y1="350.53" x2="185.89999999999998" y2="350.53" stroke="#8c8c8c" stroke-width="0.6"/>
<text transform="translate(25.20,353.27) scale(1,0.9716)" font-size="6.1" text-anchor="end" fill="#383838" stroke="#383838" stroke-width="0.1">700</text>
<line x1="27.2" y1="335.99" x2="28.5" y2="335.99" stroke="#8c8c8c" stroke-width="0.6"/>
<line x1="187.2" y1="335.99" x2="185.89999999999998" y2="335.99" stroke="#8c8c8c" stroke-width="0.6"/>
<text transform="translate(25.20,338.73) scale(1,0.9716)" font-size="6.1" text-anchor="end" fill="#383838" stroke="#383838" stroke-width="0.1">800</text>
<line x1="27.2" y1="321.45" x2="28.5" y2="321.45" stroke="#8c8c8c" stroke-width="0.6"/>
<line x1="187.2" y1="321.45" x2="185.89999999999998" y2="321.45" stroke="#8c8c8c" stroke-width="0.6"/>
<text transform="translate(25.20,324.19) scale(1,0.9716)" font-size="6.1" text-anchor="end" fill="#383838" stroke="#383838" stroke-width="0.1">900</text>
<line x1="27.2" y1="306.91" x2="28.5" y2="306.91" stroke="#8c8c8c" stroke-width="0.6"/>
<line x1="187.2" y1="306.91" x2="185.89999999999998" y2="306.91" stroke="#8c8c8c" stroke-width="0.6"/>
<text transform="translate(25.20,309.65) scale(1,0.9716)" font-size="6.1" text-anchor="end" fill="#383838" stroke="#383838" stroke-width="0.1">1000</text>
<line x1="27.2" y1="292.38" x2="28.5" y2="292.38" stroke="#8c8c8c" stroke-width="0.6"/>
<line x1="187.2" y1="292.38" x2="185.89999999999998" y2="292.38" stroke="#8c8c8c" stroke-width="0.6"/>
<text transform="translate(25.20,295.12) scale(1,0.9716)" font-size="6.1" text-anchor="end" fill="#383838" stroke="#383838" stroke-width="0.1">1100</text>
<line x1="27.2" y1="277.84" x2="28.5" y2="277.84" stroke="#8c8c8c" stroke-width="0.6"/>
<line x1="187.2" y1="277.84" x2="185.89999999999998" y2="277.84" stroke="#8c8c8c" stroke-width="0.6"/>
<text transform="translate(25.20,280.58) scale(1,0.9716)" font-size="6.1" text-anchor="end" fill="#383838" stroke="#383838" stroke-width="0.1">1200</text>
<line x1="27.2" y1="263.30" x2="28.5" y2="263.30" stroke="#8c8c8c" stroke-width="0.6"/>
<line x1="187.2" y1="263.30" x2="185.89999999999998" y2="263.30" stroke="#8c8c8c" stroke-width="0.6"/>
<text transform="translate(25.20,266.04) scale(1,0.9716)" font-size="6.1" text-anchor="end" fill="#383838" stroke="#383838" stroke-width="0.1">1300</text>
<text transform="translate(107.40,395.63) scale(1,0.9716)" font-size="6.4" text-anchor="middle" fill="#262626" stroke="#262626" stroke-width="0.18">Iterations</text>
<text transform="translate(8.43,321.45) scale(1,0.9716) rotate(-90)" font-size="6.4" text-anchor="middle" fill="#262626" stroke="#262626" stroke-width="0.18">TD</text>
<rect x="139.80" y="267.58" width="43.10" height="68.11" fill="#fff" stroke="#8c8c8c" stroke-width="0.6"/>
<line x1="141.50" y1="272.04" x2="155.70" y2="272.04" stroke="#3838ff" stroke-width="1.5"/>
<text transform="translate(157.40,273.84) scale(1,0.9716)" font-size="5.3" text-anchor="start" fill="#262626" stroke="#262626" stroke-width="0.14">MGCHOA</text>
<line x1="141.50" y1="278.74" x2="155.70" y2="278.74" stroke="#ff3030" stroke-width="1.2"/>
<text transform="translate(157.40,280.54) scale(1,0.9716)" font-size="5.3" text-anchor="start" fill="#262626" stroke="#262626" stroke-width="0.14">GA</text>
<line x1="141.50" y1="285.43" x2="155.70" y2="285.43" stroke="#48ee48" stroke-width="1.2"/>
<text transform="translate(157.40,287.23) scale(1,0.9716)" font-size="5.3" text-anchor="start" fill="#262626" stroke="#262626" stroke-width="0.14">ACO</text>
<line x1="141.50" y1="292.13" x2="155.70" y2="292.13" stroke="#ffff38" stroke-width="1.2"/>
<text transform="translate(157.40,293.92) scale(1,0.9716)" font-size="5.3" text-anchor="start" fill="#262626" stroke="#262626" stroke-width="0.14">PSO</text>
<line x1="141.50" y1="298.82" x2="155.70" y2="298.82" stroke="#363636" stroke-width="1.2"/>
<text transform="translate(157.40,300.62) scale(1,0.9716)" font-size="5.3" text-anchor="start" fill="#262626" stroke="#262626" stroke-width="0.14">RPSO</text>
<line x1="141.50" y1="305.52" x2="155.70" y2="305.52" stroke="#a8a8a8" stroke-width="1.2"/>
<text transform="translate(157.40,307.31) scale(1,0.9716)" font-size="5.3" text-anchor="start" fill="#262626" stroke="#262626" stroke-width="0.14">JADE</text>
<line x1="141.50" y1="312.21" x2="155.70" y2="312.21" stroke="#ff30ff" stroke-width="1.2"/>
<text transform="translate(157.40,314.01) scale(1,0.9716)" font-size="5.3" text-anchor="start" fill="#262626" stroke="#262626" stroke-width="0.14">SMA</text>
<line x1="141.50" y1="318.90" x2="155.70" y2="318.90" stroke="#ffa45c" stroke-width="1.2"/>
<text transform="translate(157.40,320.70) scale(1,0.9716)" font-size="5.3" text-anchor="start" fill="#262626" stroke="#262626" stroke-width="0.14">FA</text>
<line x1="141.50" y1="325.60" x2="155.70" y2="325.60" stroke="#48ffdc" stroke-width="1.2"/>
<text transform="translate(157.40,327.40) scale(1,0.9716)" font-size="5.3" text-anchor="start" fill="#262626" stroke="#262626" stroke-width="0.14">CHOA</text>
<line x1="141.50" y1="332.29" x2="155.70" y2="332.29" stroke="#48a078" stroke-width="1.2"/>
<text transform="translate(157.40,334.09) scale(1,0.9716)" font-size="5.3" text-anchor="start" fill="#262626" stroke="#262626" stroke-width="0.14">GWO</text>
<text transform="translate(312.45,260.87) scale(1,0.9716)" font-size="6.7" text-anchor="middle" fill="#111" stroke="#111" stroke-width="0.08" textLength="165.4" lengthAdjust="spacing">The convergence curves of algorithms for 1000-customers</text>
<clipPath id="c21"><rect x="231.5" y="262.3" width="161.7" height="118.30000000000001"/></clipPath>
<g clip-path="url(#c21)" fill="none" stroke-linejoin="round" stroke-linecap="round">
<polyline points="232.50,285.11 237.82,292.38 243.15,292.38 247.94,299.64 269.76,299.64 276.15,314.18 280.41,321.45 289.25,328.72 306.49,328.72 312.35,335.99 318.21,343.26 323.53,357.79 328.85,365.06 349.61,365.06 354.94,372.33 362.39,372.33 370.91,379.60 392.20,379.60" stroke="#3838ff" stroke-width="1.5"/>
<polyline points="232.50,277.84 237.29,285.11 248.26,299.64 253.79,299.64 259.12,306.91 275.09,306.91 280.41,321.45 319.27,321.45 323.53,328.72 392.20,328.72" stroke="#ff3030" stroke-width="1.2"/>
<polyline points="232.50,270.57 237.82,285.11 258.58,285.11 264.44,292.38 275.09,292.38 280.41,306.91 322.46,306.91 327.79,321.45 392.20,321.45" stroke="#48ee48" stroke-width="1.2"/>
<polyline points="232.50,277.84 243.15,292.38 248.47,299.64 253.79,299.64 258.58,306.91 318.21,306.91 323.53,314.18 392.20,314.18" stroke="#ffff38" stroke-width="1.2"/>
<polyline points="232.50,270.57 243.15,285.11 251.13,299.64 258.58,306.91 291.06,306.91 294.78,314.18 313.95,314.18 319.27,321.45 333.64,321.45 338.97,328.72 392.20,328.72" stroke="#363636" stroke-width="1.2"/>
<polyline points="232.50,277.84 245.81,292.38 253.79,292.38 264.44,306.91 291.06,306.91 295.32,314.18 328.85,314.18 333.64,321.45 354.94,321.45 360.26,328.72 392.20,328.72" stroke="#a8a8a8" stroke-width="1.2"/>
<polyline points="232.50,277.84 253.79,277.84 258.58,285.11 280.41,285.11 285.20,292.38 338.97,292.38 344.29,306.91 392.20,306.91" stroke="#ff30ff" stroke-width="1.2"/>
<polyline points="232.50,263.30 249.00,263.30 253.79,270.57 275.09,270.57 280.41,285.11 365.58,285.11 370.91,292.38 392.20,292.38" stroke="#ffa45c" stroke-width="1.2"/>
<polyline points="232.50,270.57 237.82,285.11 248.47,285.11 253.79,299.64 269.76,299.64 275.62,292.38 302.24,292.38 307.03,299.64 365.58,299.64 370.91,306.91 392.20,306.91" stroke="#48ffdc" stroke-width="1.2"/>
<polyline points="232.50,270.57 237.82,277.84 249.53,277.84 253.79,285.11 270.30,285.11 275.09,292.38 302.24,292.38 307.03,299.64 365.58,299.64 370.91,306.91 392.20,306.91" stroke="#48a078" stroke-width="1.2"/>
</g>
<rect x="232.5" y="263.3" width="159.7" height="116.30000000000001" fill="none" stroke="#8c8c8c" stroke-width="0.7"/>
<line x1="232.50" y1="379.6" x2="232.50" y2="378.3" stroke="#8c8c8c" stroke-width="0.6"/>
<line x1="232.50" y1="263.3" x2="232.50" y2="264.6" stroke="#8c8c8c" stroke-width="0.6"/>
<text transform="translate(232.50,387.66) scale(1,0.9716)" font-size="6.1" text-anchor="middle" fill="#383838" stroke="#383838" stroke-width="0.1">0</text>
<line x1="259.12" y1="379.6" x2="259.12" y2="378.3" stroke="#8c8c8c" stroke-width="0.6"/>
<line x1="259.12" y1="263.3" x2="259.12" y2="264.6" stroke="#8c8c8c" stroke-width="0.6"/>
<text transform="translate(259.12,387.66) scale(1,0.9716)" font-size="6.1" text-anchor="middle" fill="#383838" stroke="#383838" stroke-width="0.1">50</text>
<line x1="285.73" y1="379.6" x2="285.73" y2="378.3" stroke="#8c8c8c" stroke-width="0.6"/>
<line x1="285.73" y1="263.3" x2="285.73" y2="264.6" stroke="#8c8c8c" stroke-width="0.6"/>
<text transform="translate(285.73,387.66) scale(1,0.9716)" font-size="6.1" text-anchor="middle" fill="#383838" stroke="#383838" stroke-width="0.1">100</text>
<line x1="312.35" y1="379.6" x2="312.35" y2="378.3" stroke="#8c8c8c" stroke-width="0.6"/>
<line x1="312.35" y1="263.3" x2="312.35" y2="264.6" stroke="#8c8c8c" stroke-width="0.6"/>
<text transform="translate(312.35,387.66) scale(1,0.9716)" font-size="6.1" text-anchor="middle" fill="#383838" stroke="#383838" stroke-width="0.1">150</text>
<line x1="338.97" y1="379.6" x2="338.97" y2="378.3" stroke="#8c8c8c" stroke-width="0.6"/>
<line x1="338.97" y1="263.3" x2="338.97" y2="264.6" stroke="#8c8c8c" stroke-width="0.6"/>
<text transform="translate(338.97,387.66) scale(1,0.9716)" font-size="6.1" text-anchor="middle" fill="#383838" stroke="#383838" stroke-width="0.1">200</text>
<line x1="365.58" y1="379.6" x2="365.58" y2="378.3" stroke="#8c8c8c" stroke-width="0.6"/>
<line x1="365.58" y1="263.3" x2="365.58" y2="264.6" stroke="#8c8c8c" stroke-width="0.6"/>
<text transform="translate(365.58,387.66) scale(1,0.9716)" font-size="6.1" text-anchor="middle" fill="#383838" stroke="#383838" stroke-width="0.1">250</text>
<line x1="392.20" y1="379.6" x2="392.20" y2="378.3" stroke="#8c8c8c" stroke-width="0.6"/>
<line x1="392.20" y1="263.3" x2="392.20" y2="264.6" stroke="#8c8c8c" stroke-width="0.6"/>
<text transform="translate(392.20,387.66) scale(1,0.9716)" font-size="6.1" text-anchor="middle" fill="#383838" stroke="#383838" stroke-width="0.1">300</text>
<line x1="232.5" y1="379.60" x2="233.8" y2="379.60" stroke="#8c8c8c" stroke-width="0.6"/>
<line x1="392.2" y1="379.60" x2="390.9" y2="379.60" stroke="#8c8c8c" stroke-width="0.6"/>
<text transform="translate(230.50,382.34) scale(1,0.9716)" font-size="6.1" text-anchor="end" fill="#383838" stroke="#383838" stroke-width="0.1">26</text>
<line x1="232.5" y1="365.06" x2="233.8" y2="365.06" stroke="#8c8c8c" stroke-width="0.6"/>
<line x1="392.2" y1="365.06" x2="390.9" y2="365.06" stroke="#8c8c8c" stroke-width="0.6"/>
<text transform="translate(230.50,367.80) scale(1,0.9716)" font-size="6.1" text-anchor="end" fill="#383838" stroke="#383838" stroke-width="0.1">28</text>
<line x1="232.5" y1="350.53" x2="233.8" y2="350.53" stroke="#8c8c8c" stroke-width="0.6"/>
<line x1="392.2" y1="350.53" x2="390.9" y2="350.53" stroke="#8c8c8c" stroke-width="0.6"/>
<text transform="translate(230.50,353.27) scale(1,0.9716)" font-size="6.1" text-anchor="end" fill="#383838" stroke="#383838" stroke-width="0.1">30</text>
<line x1="232.5" y1="335.99" x2="233.8" y2="335.99" stroke="#8c8c8c" stroke-width="0.6"/>
<line x1="392.2" y1="335.99" x2="390.9" y2="335.99" stroke="#8c8c8c" stroke-width="0.6"/>
<text transform="translate(230.50,338.73) scale(1,0.9716)" font-size="6.1" text-anchor="end" fill="#383838" stroke="#383838" stroke-width="0.1">32</text>
<line x1="232.5" y1="321.45" x2="233.8" y2="321.45" stroke="#8c8c8c" stroke-width="0.6"/>
<line x1="392.2" y1="321.45" x2="390.9" y2="321.45" stroke="#8c8c8c" stroke-width="0.6"/>
<text transform="translate(230.50,324.19) scale(1,0.9716)" font-size="6.1" text-anchor="end" fill="#383838" stroke="#383838" stroke-width="0.1">34</text>
<line x1="232.5" y1="306.91" x2="233.8" y2="306.91" stroke="#8c8c8c" stroke-width="0.6"/>
<line x1="392.2" y1="306.91" x2="390.9" y2="306.91" stroke="#8c8c8c" stroke-width="0.6"/>
<text transform="translate(230.50,309.65) scale(1,0.9716)" font-size="6.1" text-anchor="end" fill="#383838" stroke="#383838" stroke-width="0.1">36</text>
<line x1="232.5" y1="292.38" x2="233.8" y2="292.38" stroke="#8c8c8c" stroke-width="0.6"/>
<line x1="392.2" y1="292.38" x2="390.9" y2="292.38" stroke="#8c8c8c" stroke-width="0.6"/>
<text transform="translate(230.50,295.12) scale(1,0.9716)" font-size="6.1" text-anchor="end" fill="#383838" stroke="#383838" stroke-width="0.1">38</text>
<line x1="232.5" y1="277.84" x2="233.8" y2="277.84" stroke="#8c8c8c" stroke-width="0.6"/>
<line x1="392.2" y1="277.84" x2="390.9" y2="277.84" stroke="#8c8c8c" stroke-width="0.6"/>
<text transform="translate(230.50,280.58) scale(1,0.9716)" font-size="6.1" text-anchor="end" fill="#383838" stroke="#383838" stroke-width="0.1">40</text>
<line x1="232.5" y1="263.30" x2="233.8" y2="263.30" stroke="#8c8c8c" stroke-width="0.6"/>
<line x1="392.2" y1="263.30" x2="390.9" y2="263.30" stroke="#8c8c8c" stroke-width="0.6"/>
<text transform="translate(230.50,266.04) scale(1,0.9716)" font-size="6.1" text-anchor="end" fill="#383838" stroke="#383838" stroke-width="0.1">42</text>
<text transform="translate(312.55,395.63) scale(1,0.9716)" font-size="6.4" text-anchor="middle" fill="#262626" stroke="#262626" stroke-width="0.18">Iterations</text>
<text transform="translate(220.52,321.45) scale(1,0.9716) rotate(-90)" font-size="6.4" text-anchor="middle" fill="#262626" stroke="#262626" stroke-width="0.18">NV</text>
<rect x="344.80" y="267.58" width="43.10" height="68.11" fill="#fff" stroke="#8c8c8c" stroke-width="0.6"/>
<line x1="346.50" y1="272.04" x2="360.70" y2="272.04" stroke="#3838ff" stroke-width="1.5"/>
<text transform="translate(362.40,273.84) scale(1,0.9716)" font-size="5.3" text-anchor="start" fill="#262626" stroke="#262626" stroke-width="0.14">MGCHOA</text>
<line x1="346.50" y1="278.74" x2="360.70" y2="278.74" stroke="#ff3030" stroke-width="1.2"/>
<text transform="translate(362.40,280.54) scale(1,0.9716)" font-size="5.3" text-anchor="start" fill="#262626" stroke="#262626" stroke-width="0.14">GA</text>
<line x1="346.50" y1="285.43" x2="360.70" y2="285.43" stroke="#48ee48" stroke-width="1.2"/>
<text transform="translate(362.40,287.23) scale(1,0.9716)" font-size="5.3" text-anchor="start" fill="#262626" stroke="#262626" stroke-width="0.14">ACO</text>
<line x1="346.50" y1="292.13" x2="360.70" y2="292.13" stroke="#ffff38" stroke-width="1.2"/>
<text transform="translate(362.40,293.92) scale(1,0.9716)" font-size="5.3" text-anchor="start" fill="#262626" stroke="#262626" stroke-width="0.14">PSO</text>
<line x1="346.50" y1="298.82" x2="360.70" y2="298.82" stroke="#363636" stroke-width="1.2"/>
<text transform="translate(362.40,300.62) scale(1,0.9716)" font-size="5.3" text-anchor="start" fill="#262626" stroke="#262626" stroke-width="0.14">RPSO</text>
<line x1="346.50" y1="305.52" x2="360.70" y2="305.52" stroke="#a8a8a8" stroke-width="1.2"/>
<text transform="translate(362.40,307.31) scale(1,0.9716)" font-size="5.3" text-anchor="start" fill="#262626" stroke="#262626" stroke-width="0.14">JADE</text>
<line x1="346.50" y1="312.21" x2="360.70" y2="312.21" stroke="#ff30ff" stroke-width="1.2"/>
<text transform="translate(362.40,314.01) scale(1,0.9716)" font-size="5.3" text-anchor="start" fill="#262626" stroke="#262626" stroke-width="0.14">SMA</text>
<line x1="346.50" y1="318.90" x2="360.70" y2="318.90" stroke="#ffa45c" stroke-width="1.2"/>
<text transform="translate(362.40,320.70) scale(1,0.9716)" font-size="5.3" text-anchor="start" fill="#262626" stroke="#262626" stroke-width="0.14">FA</text>
<line x1="346.50" y1="325.60" x2="360.70" y2="325.60" stroke="#48ffdc" stroke-width="1.2"/>
<text transform="translate(362.40,327.40) scale(1,0.9716)" font-size="5.3" text-anchor="start" fill="#262626" stroke="#262626" stroke-width="0.14">CHOA</text>
<line x1="346.50" y1="332.29" x2="360.70" y2="332.29" stroke="#48a078" stroke-width="1.2"/>
<text transform="translate(362.40,334.09) scale(1,0.9716)" font-size="5.3" text-anchor="start" fill="#262626" stroke="#262626" stroke-width="0.14">GWO</text>
<text transform="translate(106.95,405.20) scale(1,1.0000)" font-size="6.7" text-anchor="middle" fill="#111" stroke="#111" stroke-width="0.08" textLength="165.4" lengthAdjust="spacing">The convergence curves of algorithms for 1200-customers</text>
<clipPath id="c30"><rect x="26.2" y="406.7" width="161.3" height="121.69999999999999"/></clipPath>
<g clip-path="url(#c30)" fill="none" stroke-linejoin="round" stroke-linecap="round">
<polyline points="27.20,419.67 32.51,437.33 37.13,438.42 42.60,438.42 48.17,446.30 53.75,455.18 59.06,461.86 64.90,466.75 69.15,469.74 74.83,484.31 80.30,497.18 90.39,497.18 96.76,500.97 101.54,500.97 105.26,505.45 107.38,506.55 120.66,506.55 127.56,508.95 142.96,508.95 149.86,511.54 153.05,511.54 159.42,515.63 178.53,515.63 181.72,518.92 186.50,518.92" stroke="#3838ff" stroke-width="1.5"/>
<polyline points="27.20,420.17 34.63,425.16 55.34,428.15 64.37,429.64 106.85,430.14 186.50,430.84" stroke="#ff3030" stroke-width="1.2"/>
<polyline points="27.20,419.97 34.63,422.16 43.66,423.16 62.78,424.06 85.61,425.65 106.85,427.65 133.40,429.64 186.50,435.33" stroke="#48ee48" stroke-width="1.2"/>
<polyline points="27.20,419.67 34.63,424.16 59.06,426.45 90.92,427.85 186.50,430.14" stroke="#ffff38" stroke-width="1.2"/>
<polyline points="27.20,419.67 34.63,423.66 53.75,425.65 70.21,428.95 106.85,429.15 186.50,430.84" stroke="#363636" stroke-width="1.2"/>
<polyline points="27.20,419.67 34.63,425.16 59.06,427.15 90.92,428.65 186.50,430.84" stroke="#a8a8a8" stroke-width="1.2"/>
<polyline points="27.20,419.67 32.51,423.66 48.17,424.36 80.30,425.65 113.22,426.65 133.40,427.35 186.50,428.75" stroke="#ff30ff" stroke-width="1.2"/>
<polyline points="27.20,419.87 33.57,425.65 53.75,426.65 80.30,428.65 106.85,432.64 133.40,433.63 186.50,436.73" stroke="#ffa45c" stroke-width="1.2"/>
<polyline points="27.20,419.67 34.63,424.66 59.06,426.15 80.30,428.15 133.40,429.64 186.50,431.64" stroke="#48ffdc" stroke-width="1.2"/>
<polyline points="27.20,419.67 34.63,425.16 59.06,426.65 85.61,428.65 133.40,431.64 186.50,435.33" stroke="#48a078" stroke-width="1.2"/>
</g>
<rect x="27.2" y="407.7" width="159.3" height="119.69999999999999" fill="none" stroke="#8c8c8c" stroke-width="0.7"/>
<line x1="27.20" y1="527.4" x2="27.20" y2="526.1" stroke="#8c8c8c" stroke-width="0.6"/>
<line x1="27.20" y1="407.7" x2="27.20" y2="409.0" stroke="#8c8c8c" stroke-width="0.6"/>
<text transform="translate(27.20,535.70) scale(1,1.0000)" font-size="6.1" text-anchor="middle" fill="#383838" stroke="#383838" stroke-width="0.1">0</text>
<line x1="53.75" y1="527.4" x2="53.75" y2="526.1" stroke="#8c8c8c" stroke-width="0.6"/>
<line x1="53.75" y1="407.7" x2="53.75" y2="409.0" stroke="#8c8c8c" stroke-width="0.6"/>
<text transform="translate(53.75,535.70) scale(1,1.0000)" font-size="6.1" text-anchor="middle" fill="#383838" stroke="#383838" stroke-width="0.1">50</text>
<line x1="80.30" y1="527.4" x2="80.30" y2="526.1" stroke="#8c8c8c" stroke-width="0.6"/>
<line x1="80.30" y1="407.7" x2="80.30" y2="409.0" stroke="#8c8c8c" stroke-width="0.6"/>
<text transform="translate(80.30,535.70) scale(1,1.0000)" font-size="6.1" text-anchor="middle" fill="#383838" stroke="#383838" stroke-width="0.1">100</text>
<line x1="106.85" y1="527.4" x2="106.85" y2="526.1" stroke="#8c8c8c" stroke-width="0.6"/>
<line x1="106.85" y1="407.7" x2="106.85" y2="409.0" stroke="#8c8c8c" stroke-width="0.6"/>
<text transform="translate(106.85,535.70) scale(1,1.0000)" font-size="6.1" text-anchor="middle" fill="#383838" stroke="#383838" stroke-width="0.1">150</text>
<line x1="133.40" y1="527.4" x2="133.40" y2="526.1" stroke="#8c8c8c" stroke-width="0.6"/>
<line x1="133.40" y1="407.7" x2="133.40" y2="409.0" stroke="#8c8c8c" stroke-width="0.6"/>
<text transform="translate(133.40,535.70) scale(1,1.0000)" font-size="6.1" text-anchor="middle" fill="#383838" stroke="#383838" stroke-width="0.1">200</text>
<line x1="159.95" y1="527.4" x2="159.95" y2="526.1" stroke="#8c8c8c" stroke-width="0.6"/>
<line x1="159.95" y1="407.7" x2="159.95" y2="409.0" stroke="#8c8c8c" stroke-width="0.6"/>
<text transform="translate(159.95,535.70) scale(1,1.0000)" font-size="6.1" text-anchor="middle" fill="#383838" stroke="#383838" stroke-width="0.1">250</text>
<line x1="186.50" y1="527.4" x2="186.50" y2="526.1" stroke="#8c8c8c" stroke-width="0.6"/>
<line x1="186.50" y1="407.7" x2="186.50" y2="409.0" stroke="#8c8c8c" stroke-width="0.6"/>
<text transform="translate(186.50,535.70) scale(1,1.0000)" font-size="6.1" text-anchor="middle" fill="#383838" stroke="#383838" stroke-width="0.1">300</text>
<line x1="27.2" y1="527.40" x2="28.5" y2="527.40" stroke="#8c8c8c" stroke-width="0.6"/>
<line x1="186.5" y1="527.40" x2="185.2" y2="527.40" stroke="#8c8c8c" stroke-width="0.6"/>
<text transform="translate(25.20,530.20) scale(1,1.0000)" font-size="6.1" text-anchor="end" fill="#383838" stroke="#383838" stroke-width="0.1">600</text>
<line x1="27.2" y1="507.45" x2="28.5" y2="507.45" stroke="#8c8c8c" stroke-width="0.6"/>
<line x1="186.5" y1="507.45" x2="185.2" y2="507.45" stroke="#8c8c8c" stroke-width="0.6"/>
<text transform="translate(25.20,510.25) scale(1,1.0000)" font-size="6.1" text-anchor="end" fill="#383838" stroke="#383838" stroke-width="0.1">800</text>
<line x1="27.2" y1="487.50" x2="28.5" y2="487.50" stroke="#8c8c8c" stroke-width="0.6"/>
<line x1="186.5" y1="487.50" x2="185.2" y2="487.50" stroke="#8c8c8c" stroke-width="0.6"/>
<text transform="translate(25.20,490.30) scale(1,1.0000)" font-size="6.1" text-anchor="end" fill="#383838" stroke="#383838" stroke-width="0.1">1000</text>
<line x1="27.2" y1="467.55" x2="28.5" y2="467.55" stroke="#8c8c8c" stroke-width="0.6"/>
<line x1="186.5" y1="467.55" x2="185.2" y2="467.55" stroke="#8c8c8c" stroke-width="0.6"/>
<text transform="translate(25.20,470.35) scale(1,1.0000)" font-size="6.1" text-anchor="end" fill="#383838" stroke="#383838" stroke-width="0.1">1200</text>
<line x1="27.2" y1="447.60" x2="28.5" y2="447.60" stroke="#8c8c8c" stroke-width="0.6"/>
<line x1="186.5" y1="447.60" x2="185.2" y2="447.60" stroke="#8c8c8c" stroke-width="0.6"/>
<text transform="translate(25.20,450.40) scale(1,1.0000)" font-size="6.1" text-anchor="end" fill="#383838" stroke="#383838" stroke-width="0.1">1400</text>
<line x1="27.2" y1="427.65" x2="28.5" y2="427.65" stroke="#8c8c8c" stroke-width="0.6"/>
<line x1="186.5" y1="427.65" x2="185.2" y2="427.65" stroke="#8c8c8c" stroke-width="0.6"/>
<text transform="translate(25.20,430.45) scale(1,1.0000)" font-size="6.1" text-anchor="end" fill="#383838" stroke="#383838" stroke-width="0.1">1600</text>
<line x1="27.2" y1="407.70" x2="28.5" y2="407.70" stroke="#8c8c8c" stroke-width="0.6"/>
<line x1="186.5" y1="407.70" x2="185.2" y2="407.70" stroke="#8c8c8c" stroke-width="0.6"/>
<text transform="translate(25.20,410.50) scale(1,1.0000)" font-size="6.1" text-anchor="end" fill="#383838" stroke="#383838" stroke-width="0.1">1800</text>
<text transform="translate(107.05,543.90) scale(1,1.0000)" font-size="6.4" text-anchor="middle" fill="#262626" stroke="#262626" stroke-width="0.18">Iterations</text>
<text transform="translate(8.43,467.55) scale(1,1.0000) rotate(-90)" font-size="6.4" text-anchor="middle" fill="#262626" stroke="#262626" stroke-width="0.18">TD</text>
<rect x="139.10" y="412.10" width="43.10" height="70.10" fill="#fff" stroke="#8c8c8c" stroke-width="0.6"/>
<line x1="140.80" y1="416.70" x2="155.00" y2="416.70" stroke="#3838ff" stroke-width="1.5"/>
<text transform="translate(156.70,418.55) scale(1,1.0000)" font-size="5.3" text-anchor="start" fill="#262626" stroke="#262626" stroke-width="0.14">MGCHOA</text>
<line x1="140.80" y1="423.59" x2="155.00" y2="423.59" stroke="#ff3030" stroke-width="1.2"/>
<text transform="translate(156.70,425.44) scale(1,1.0000)" font-size="5.3" text-anchor="start" fill="#262626" stroke="#262626" stroke-width="0.14">GA</text>
<line x1="140.80" y1="430.48" x2="155.00" y2="430.48" stroke="#48ee48" stroke-width="1.2"/>
<text transform="translate(156.70,432.33) scale(1,1.0000)" font-size="5.3" text-anchor="start" fill="#262626" stroke="#262626" stroke-width="0.14">ACO</text>
<line x1="140.80" y1="437.37" x2="155.00" y2="437.37" stroke="#ffff38" stroke-width="1.2"/>
<text transform="translate(156.70,439.22) scale(1,1.0000)" font-size="5.3" text-anchor="start" fill="#262626" stroke="#262626" stroke-width="0.14">PSO</text>
<line x1="140.80" y1="444.26" x2="155.00" y2="444.26" stroke="#363636" stroke-width="1.2"/>
<text transform="translate(156.70,446.11) scale(1,1.0000)" font-size="5.3" text-anchor="start" fill="#262626" stroke="#262626" stroke-width="0.14">RPSO</text>
<line x1="140.80" y1="451.15" x2="155.00" y2="451.15" stroke="#a8a8a8" stroke-width="1.2"/>
<text transform="translate(156.70,453.00) scale(1,1.0000)" font-size="5.3" text-anchor="start" fill="#262626" stroke="#262626" stroke-width="0.14">JADE</text>
<line x1="140.80" y1="458.04" x2="155.00" y2="458.04" stroke="#ff30ff" stroke-width="1.2"/>
<text transform="translate(156.70,459.89) scale(1,1.0000)" font-size="5.3" text-anchor="start" fill="#262626" stroke="#262626" stroke-width="0.14">SMA</text>
<line x1="140.80" y1="464.93" x2="155.00" y2="464.93" stroke="#ffa45c" stroke-width="1.2"/>
<text transform="translate(156.70,466.78) scale(1,1.0000)" font-size="5.3" text-anchor="start" fill="#262626" stroke="#262626" stroke-width="0.14">FA</text>
<line x1="140.80" y1="471.82" x2="155.00" y2="471.82" stroke="#48ffdc" stroke-width="1.2"/>
<text transform="translate(156.70,473.67) scale(1,1.0000)" font-size="5.3" text-anchor="start" fill="#262626" stroke="#262626" stroke-width="0.14">CHOA</text>
<line x1="140.80" y1="478.71" x2="155.00" y2="478.71" stroke="#48a078" stroke-width="1.2"/>
<text transform="translate(156.70,480.56) scale(1,1.0000)" font-size="5.3" text-anchor="start" fill="#262626" stroke="#262626" stroke-width="0.14">GWO</text>
<text transform="translate(312.20,405.20) scale(1,1.0000)" font-size="6.7" text-anchor="middle" fill="#111" stroke="#111" stroke-width="0.08" textLength="165.4" lengthAdjust="spacing">The convergence curves of algorithms for 1200-customers</text>
<clipPath id="c31"><rect x="231.4" y="406.7" width="161.4" height="121.69999999999999"/></clipPath>
<g clip-path="url(#c31)" fill="none" stroke-linejoin="round" stroke-linecap="round">
<polyline points="232.40,433.35 243.03,467.55 254.18,484.65 258.75,484.65 264.28,493.20 302.00,493.20 312.63,510.30 332.82,510.30 338.35,527.40 391.80,527.40" stroke="#3838ff" stroke-width="1.5"/>
<polyline points="232.40,433.35 248.71,433.35 253.12,441.90 279.69,441.90 285.53,459.00 306.79,459.00 312.10,476.10 318.48,484.65 354.08,484.65 359.39,493.20 391.80,493.20" stroke="#ff3030" stroke-width="1.2"/>
<polyline points="232.40,433.35 264.28,433.35 269.59,441.90 296.48,441.90 299.88,450.45 349.29,450.45 354.61,459.00 391.80,459.00" stroke="#48ee48" stroke-width="1.2"/>
<polyline points="232.40,433.35 243.03,433.35 251.00,441.90 269.59,441.90 273.15,450.45 312.63,450.45 317.20,459.00 338.67,459.00 343.98,467.55 391.80,467.55" stroke="#ffff38" stroke-width="1.2"/>
<polyline points="232.40,433.35 243.03,433.35 251.00,441.90 260.56,441.90 264.28,450.45 285.53,450.45 289.78,459.00 322.73,459.00 326.98,467.55 391.80,467.55" stroke="#363636" stroke-width="1.2"/>
<polyline points="232.40,433.35 240.37,433.35 245.68,441.90 248.71,441.90 253.65,450.45 270.92,450.45 275.44,459.00 302.00,459.00 307.58,467.55 334.42,467.55 339.20,476.10 391.80,476.10" stroke="#a8a8a8" stroke-width="1.2"/>
<polyline points="232.40,416.25 237.71,416.25 243.03,424.80 269.59,424.80 275.44,433.35 313.16,433.35 318.48,441.90 391.80,441.90" stroke="#ff30ff" stroke-width="1.2"/>
<polyline points="232.40,433.35 236.65,433.35 242.76,441.90 253.65,441.90 258.44,450.45 263.48,450.45 306.79,450.45 312.10,459.00 339.20,459.00 343.98,467.55 391.80,467.55" stroke="#ffa45c" stroke-width="1.2"/>
<polyline points="232.40,424.80 243.03,433.35 244.62,433.35 251.00,441.90 260.56,441.90 264.28,450.45 301.47,450.45 306.79,459.00 328.31,459.00 332.82,467.55 391.80,467.55" stroke="#48ffdc" stroke-width="1.2"/>
<polyline points="232.40,416.25 243.03,433.35 254.72,433.35 259.50,441.90 302.00,441.90 307.58,450.45 339.20,450.45 343.98,459.00 391.80,459.00" stroke="#48a078" stroke-width="1.2"/>
</g>
<rect x="232.4" y="407.7" width="159.4" height="119.69999999999999" fill="none" stroke="#8c8c8c" stroke-width="0.7"/>
<line x1="232.40" y1="527.4" x2="232.40" y2="526.1" stroke="#8c8c8c" stroke-width="0.6"/>
<line x1="232.40" y1="407.7" x2="232.40" y2="409.0" stroke="#8c8c8c" stroke-width="0.6"/>
<text transform="translate(232.40,535.70) scale(1,1.0000)" font-size="6.1" text-anchor="middle" fill="#383838" stroke="#383838" stroke-width="0.1">0</text>
<line x1="258.97" y1="527.4" x2="258.97" y2="526.1" stroke="#8c8c8c" stroke-width="0.6"/>
<line x1="258.97" y1="407.7" x2="258.97" y2="409.0" stroke="#8c8c8c" stroke-width="0.6"/>
<text transform="translate(258.97,535.70) scale(1,1.0000)" font-size="6.1" text-anchor="middle" fill="#383838" stroke="#383838" stroke-width="0.1">50</text>
<line x1="285.53" y1="527.4" x2="285.53" y2="526.1" stroke="#8c8c8c" stroke-width="0.6"/>
<line x1="285.53" y1="407.7" x2="285.53" y2="409.0" stroke="#8c8c8c" stroke-width="0.6"/>
<text transform="translate(285.53,535.70) scale(1,1.0000)" font-size="6.1" text-anchor="middle" fill="#383838" stroke="#383838" stroke-width="0.1">100</text>
<line x1="312.10" y1="527.4" x2="312.10" y2="526.1" stroke="#8c8c8c" stroke-width="0.6"/>
<line x1="312.10" y1="407.7" x2="312.10" y2="409.0" stroke="#8c8c8c" stroke-width="0.6"/>
<text transform="translate(312.10,535.70) scale(1,1.0000)" font-size="6.1" text-anchor="middle" fill="#383838" stroke="#383838" stroke-width="0.1">150</text>
<line x1="338.67" y1="527.4" x2="338.67" y2="526.1" stroke="#8c8c8c" stroke-width="0.6"/>
<line x1="338.67" y1="407.7" x2="338.67" y2="409.0" stroke="#8c8c8c" stroke-width="0.6"/>
<text transform="translate(338.67,535.70) scale(1,1.0000)" font-size="6.1" text-anchor="middle" fill="#383838" stroke="#383838" stroke-width="0.1">200</text>
<line x1="365.23" y1="527.4" x2="365.23" y2="526.1" stroke="#8c8c8c" stroke-width="0.6"/>
<line x1="365.23" y1="407.7" x2="365.23" y2="409.0" stroke="#8c8c8c" stroke-width="0.6"/>
<text transform="translate(365.23,535.70) scale(1,1.0000)" font-size="6.1" text-anchor="middle" fill="#383838" stroke="#383838" stroke-width="0.1">250</text>
<line x1="391.80" y1="527.4" x2="391.80" y2="526.1" stroke="#8c8c8c" stroke-width="0.6"/>
<line x1="391.80" y1="407.7" x2="391.80" y2="409.0" stroke="#8c8c8c" stroke-width="0.6"/>
<text transform="translate(391.80,535.70) scale(1,1.0000)" font-size="6.1" text-anchor="middle" fill="#383838" stroke="#383838" stroke-width="0.1">300</text>
<line x1="232.4" y1="527.40" x2="233.70000000000002" y2="527.40" stroke="#8c8c8c" stroke-width="0.6"/>
<line x1="391.8" y1="527.40" x2="390.5" y2="527.40" stroke="#8c8c8c" stroke-width="0.6"/>
<text transform="translate(230.40,530.20) scale(1,1.0000)" font-size="6.1" text-anchor="end" fill="#383838" stroke="#383838" stroke-width="0.1">30</text>
<line x1="232.4" y1="510.30" x2="233.70000000000002" y2="510.30" stroke="#8c8c8c" stroke-width="0.6"/>
<line x1="391.8" y1="510.30" x2="390.5" y2="510.30" stroke="#8c8c8c" stroke-width="0.6"/>
<text transform="translate(230.40,513.10) scale(1,1.0000)" font-size="6.1" text-anchor="end" fill="#383838" stroke="#383838" stroke-width="0.1">32</text>
<line x1="232.4" y1="493.20" x2="233.70000000000002" y2="493.20" stroke="#8c8c8c" stroke-width="0.6"/>
<line x1="391.8" y1="493.20" x2="390.5" y2="493.20" stroke="#8c8c8c" stroke-width="0.6"/>
<text transform="translate(230.40,496.00) scale(1,1.0000)" font-size="6.1" text-anchor="end" fill="#383838" stroke="#383838" stroke-width="0.1">34</text>
<line x1="232.4" y1="476.10" x2="233.70000000000002" y2="476.10" stroke="#8c8c8c" stroke-width="0.6"/>
<line x1="391.8" y1="476.10" x2="390.5" y2="476.10" stroke="#8c8c8c" stroke-width="0.6"/>
<text transform="translate(230.40,478.90) scale(1,1.0000)" font-size="6.1" text-anchor="end" fill="#383838" stroke="#383838" stroke-width="0.1">36</text>
<line x1="232.4" y1="459.00" x2="233.70000000000002" y2="459.00" stroke="#8c8c8c" stroke-width="0.6"/>
<line x1="391.8" y1="459.00" x2="390.5" y2="459.00" stroke="#8c8c8c" stroke-width="0.6"/>
<text transform="translate(230.40,461.80) scale(1,1.0000)" font-size="6.1" text-anchor="end" fill="#383838" stroke="#383838" stroke-width="0.1">38</text>
<line x1="232.4" y1="441.90" x2="233.70000000000002" y2="441.90" stroke="#8c8c8c" stroke-width="0.6"/>
<line x1="391.8" y1="441.90" x2="390.5" y2="441.90" stroke="#8c8c8c" stroke-width="0.6"/>
<text transform="translate(230.40,444.70) scale(1,1.0000)" font-size="6.1" text-anchor="end" fill="#383838" stroke="#383838" stroke-width="0.1">40</text>
<line x1="232.4" y1="424.80" x2="233.70000000000002" y2="424.80" stroke="#8c8c8c" stroke-width="0.6"/>
<line x1="391.8" y1="424.80" x2="390.5" y2="424.80" stroke="#8c8c8c" stroke-width="0.6"/>
<text transform="translate(230.40,427.60) scale(1,1.0000)" font-size="6.1" text-anchor="end" fill="#383838" stroke="#383838" stroke-width="0.1">42</text>
<line x1="232.4" y1="407.70" x2="233.70000000000002" y2="407.70" stroke="#8c8c8c" stroke-width="0.6"/>
<line x1="391.8" y1="407.70" x2="390.5" y2="407.70" stroke="#8c8c8c" stroke-width="0.6"/>
<text transform="translate(230.40,410.50) scale(1,1.0000)" font-size="6.1" text-anchor="end" fill="#383838" stroke="#383838" stroke-width="0.1">44</text>
<text transform="translate(312.30,543.90) scale(1,1.0000)" font-size="6.4" text-anchor="middle" fill="#262626" stroke="#262626" stroke-width="0.18">Iterations</text>
<text transform="translate(220.42,467.55) scale(1,1.0000) rotate(-90)" font-size="6.4" text-anchor="middle" fill="#262626" stroke="#262626" stroke-width="0.18">NV</text>
<rect x="344.40" y="412.10" width="43.10" height="70.10" fill="#fff" stroke="#8c8c8c" stroke-width="0.6"/>
<line x1="346.10" y1="416.70" x2="360.30" y2="416.70" stroke="#3838ff" stroke-width="1.5"/>
<text transform="translate(362.00,418.55) scale(1,1.0000)" font-size="5.3" text-anchor="start" fill="#262626" stroke="#262626" stroke-width="0.14">MGCHOA</text>
<line x1="346.10" y1="423.59" x2="360.30" y2="423.59" stroke="#ff3030" stroke-width="1.2"/>
<text transform="translate(362.00,425.44) scale(1,1.0000)" font-size="5.3" text-anchor="start" fill="#262626" stroke="#262626" stroke-width="0.14">GA</text>
<line x1="346.10" y1="430.48" x2="360.30" y2="430.48" stroke="#48ee48" stroke-width="1.2"/>
<text transform="translate(362.00,432.33) scale(1,1.0000)" font-size="5.3" text-anchor="start" fill="#262626" stroke="#262626" stroke-width="0.14">ACO</text>
<line x1="346.10" y1="437.37" x2="360.30" y2="437.37" stroke="#ffff38" stroke-width="1.2"/>
<text transform="translate(362.00,439.22) scale(1,1.0000)" font-size="5.3" text-anchor="start" fill="#262626" stroke="#262626" stroke-width="0.14">PSO</text>
<line x1="346.10" y1="444.26" x2="360.30" y2="444.26" stroke="#363636" stroke-width="1.2"/>
<text transform="translate(362.00,446.11) scale(1,1.0000)" font-size="5.3" text-anchor="start" fill="#262626" stroke="#262626" stroke-width="0.14">RPSO</text>
<line x1="346.10" y1="451.15" x2="360.30" y2="451.15" stroke="#a8a8a8" stroke-width="1.2"/>
<text transform="translate(362.00,453.00) scale(1,1.0000)" font-size="5.3" text-anchor="start" fill="#262626" stroke="#262626" stroke-width="0.14">JADE</text>
<line x1="346.10" y1="458.04" x2="360.30" y2="458.04" stroke="#ff30ff" stroke-width="1.2"/>
<text transform="translate(362.00,459.89) scale(1,1.0000)" font-size="5.3" text-anchor="start" fill="#262626" stroke="#262626" stroke-width="0.14">SMA</text>
<line x1="346.10" y1="464.93" x2="360.30" y2="464.93" stroke="#ffa45c" stroke-width="1.2"/>
<text transform="translate(362.00,466.78) scale(1,1.0000)" font-size="5.3" text-anchor="start" fill="#262626" stroke="#262626" stroke-width="0.14">FA</text>
<line x1="346.10" y1="471.82" x2="360.30" y2="471.82" stroke="#48ffdc" stroke-width="1.2"/>
<text transform="translate(362.00,473.67) scale(1,1.0000)" font-size="5.3" text-anchor="start" fill="#262626" stroke="#262626" stroke-width="0.14">CHOA</text>
<line x1="346.10" y1="478.71" x2="360.30" y2="478.71" stroke="#48a078" stroke-width="1.2"/>
<text transform="translate(362.00,480.56) scale(1,1.0000)" font-size="5.3" text-anchor="start" fill="#262626" stroke="#262626" stroke-width="0.14">GWO</text>
</svg>
</body></html>
